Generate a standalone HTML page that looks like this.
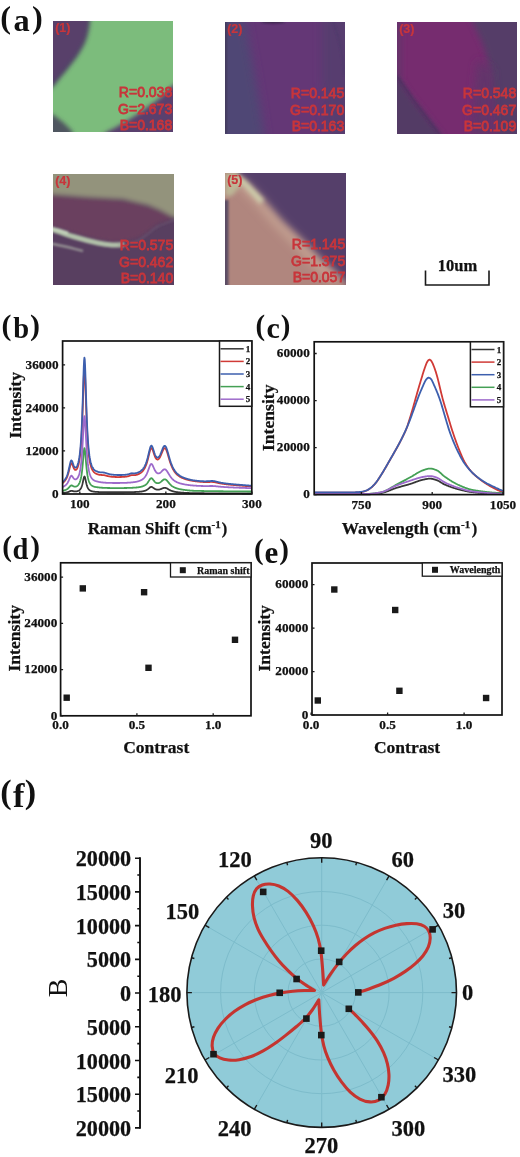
<!DOCTYPE html>
<html><head><meta charset="utf-8"><title>Figure</title>
<style>html,body{margin:0;padding:0;background:#fff;}svg{display:block;}</style>
</head><body>
<svg width="520" height="1157" viewBox="0 0 520 1157">
<rect width="520" height="1157" fill="#fff"/>
<g font-weight="bold" font-family="'Liberation Serif', 'Times New Roman', serif" fill="#111"><text x="0.27" y="27.7" font-size="32.4">(</text><text x="32.1" y="27.7" font-size="32.4">)</text><text x="13.4" y="31.4" font-size="32.4">a</text></g>
<defs><filter id="b2" x="-20%" y="-20%" width="140%" height="140%"><feGaussianBlur stdDeviation="2"/></filter><filter id="b3" x="-20%" y="-20%" width="140%" height="140%"><feGaussianBlur stdDeviation="3"/></filter><filter id="b5" x="-30%" y="-30%" width="160%" height="160%"><feGaussianBlur stdDeviation="5"/></filter><filter id="b1" x="-20%" y="-20%" width="140%" height="140%"><feGaussianBlur stdDeviation="1.2"/></filter><clipPath id="cp1"><rect x="53" y="21" width="120" height="111"/></clipPath><clipPath id="cp2"><rect x="225" y="22" width="120" height="112"/></clipPath><clipPath id="cp3"><rect x="397" y="22" width="120" height="112"/></clipPath><clipPath id="cp4"><rect x="53" y="174" width="121" height="111"/></clipPath><clipPath id="cp5"><rect x="225" y="173" width="121" height="112"/></clipPath><linearGradient id="g2" x1="0" y1="0" x2="1" y2="0"><stop offset="0" stop-color="#5a4a86"/><stop offset="0.25" stop-color="#5f4787"/><stop offset="0.45" stop-color="#673b7c"/><stop offset="1" stop-color="#663b7b"/></linearGradient></defs>
<g clip-path="url(#cp1)">
<rect x="53" y="21" width="120" height="111" fill="#7cbc7c"/>
<g filter="url(#b2)">
<path d="M40,10 L90,10 L89.5,15 C89.42,16 89.58,17.33 89,21 C88.42,24.67 87.67,31.88 86,37 C84.33,42.12 81.8,46.87 79,51.7 C76.2,56.53 72.43,61.68 69.2,66 C65.97,70.32 62.17,74.38 59.6,77.6 C57.03,80.82 55.73,82.9 53.8,85.3 C51.87,87.7 48.97,90.88 48,92 L40,95Z" fill="#58406b"/>
<path d="M185,150 L185,78 L180,82 C178.67,82.67 175.17,83.5 172,86 C168.83,88.5 164.87,93.67 161,97 C157.13,100.33 152.63,103.2 148.8,106 C144.97,108.8 141.83,111.22 138,113.8 C134.17,116.38 129.63,119.18 125.8,121.5 C121.97,123.82 118.08,126.03 115,127.7 C111.92,129.37 109.8,129.78 107.3,131.5 C104.8,133.22 101.22,136.92 100,138 L98,150Z" fill="#5a406e"/>
<path d="M89,18 C88.75,20 88.33,26 87.5,30 C86.67,34 85.75,37.92 84,42 C82.25,46.08 79.75,50.33 77,54.5 C74.25,58.67 70.67,63 67.5,67 C64.33,71 60.58,75.33 58,78.5 C55.42,81.67 53,84.75 52,86" fill="none" stroke="#483d62" stroke-width="3" opacity="0.8"/>
<path d="M45,111 L55,116 L64,123 L72,131 L75,140 L45,140Z" fill="#4a4a5c" opacity="0.9"/>
</g>
</g>
<text x="55.2" y="32" font-size="12.5" text-anchor="start" font-weight="bold" font-family="'Liberation Sans', Arial, sans-serif" fill="#c8353b" stroke="#c8353b" stroke-width="0.2">(1)</text>
<text x="172.2" y="96.9" font-size="14" text-anchor="end" font-weight="normal" font-family="'Liberation Sans', Arial, sans-serif" fill="#c8353b" stroke="#c8353b" stroke-width="0.8">R=0.038</text>
<text x="172.2" y="113.65" font-size="14" text-anchor="end" font-weight="normal" font-family="'Liberation Sans', Arial, sans-serif" fill="#c8353b" stroke="#c8353b" stroke-width="0.8">G=2.673</text>
<text x="172.2" y="130.4" font-size="14" text-anchor="end" font-weight="normal" font-family="'Liberation Sans', Arial, sans-serif" fill="#c8353b" stroke="#c8353b" stroke-width="0.8">B=0.168</text>
<g clip-path="url(#cp2)">
<rect x="225" y="22" width="120" height="112" fill="#643776"/>
<g filter="url(#b5)">
<path d="M215,15 L244,15 L252,60 L259,100 L265,140 L215,140Z" fill="#504675"/>
<path d="M322,15 L355,15 L355,140 L326,140 L322,80Z" fill="#553e6e" opacity="0.9"/>
</g>
<g filter="url(#b1)"><rect x="222" y="22" width="5" height="112" fill="#3f3a55" opacity="0.8"/>
<ellipse cx="273" cy="22" rx="12" ry="1.5" fill="#2e2040" opacity="0.8"/>
<path d="M333,22 Q343,45 344,75" fill="none" stroke="#4a3868" stroke-width="1.5" opacity="0.7"/></g>
</g>
<text x="227.2" y="33" font-size="12.5" text-anchor="start" font-weight="bold" font-family="'Liberation Sans', Arial, sans-serif" fill="#c8353b" stroke="#c8353b" stroke-width="0.2">(2)</text>
<text x="344.2" y="97.9" font-size="14" text-anchor="end" font-weight="normal" font-family="'Liberation Sans', Arial, sans-serif" fill="#c8353b" stroke="#c8353b" stroke-width="0.8">R=0.145</text>
<text x="344.2" y="114.65" font-size="14" text-anchor="end" font-weight="normal" font-family="'Liberation Sans', Arial, sans-serif" fill="#c8353b" stroke="#c8353b" stroke-width="0.8">G=0.170</text>
<text x="344.2" y="131.4" font-size="14" text-anchor="end" font-weight="normal" font-family="'Liberation Sans', Arial, sans-serif" fill="#c8353b" stroke="#c8353b" stroke-width="0.8">B=0.163</text>
<g clip-path="url(#cp3)">
<rect x="397" y="22" width="120" height="112" fill="#762c6f"/>
<g filter="url(#b3)">
<path d="M385,70 L398,76 L410,95 L425,114 L442,136 L442,145 L385,145Z" fill="#523a65"/>
<path d="M471,5 C460.67,7.83 471,15.33 473,22 C475,28.67 480.17,37 483,45 C485.83,53 488.5,61.67 490,70 C491.5,78.33 490.83,84.33 492,95 C493.17,105.67 495.67,124.83 497,134 C498.33,143.17 493.67,147.33 500,150 C506.33,152.67 529.17,174.17 535,150 C540.83,125.83 545.67,29.17 535,5 C524.33,-19.17 481.33,2.17 471,5Z" fill="#553c68"/>
<rect x="393" y="20" width="8" height="60" fill="#5c3868" opacity="0.7"/>
</g>
<g filter="url(#b5)"><path d="M478,60 L492,70 L495,140 L470,140Z" fill="#5d3869" opacity="0.8"/></g>
<g filter="url(#b1)"><path d="M397,76 L412,98 L427,118 L440,135" fill="none" stroke="#3f2f5a" stroke-width="2" opacity="0.6"/></g>
</g>
<text x="399.2" y="33" font-size="12.5" text-anchor="start" font-weight="bold" font-family="'Liberation Sans', Arial, sans-serif" fill="#c8353b" stroke="#c8353b" stroke-width="0.2">(3)</text>
<text x="516.2" y="97.9" font-size="14" text-anchor="end" font-weight="normal" font-family="'Liberation Sans', Arial, sans-serif" fill="#c8353b" stroke="#c8353b" stroke-width="0.8">R=0.548</text>
<text x="516.2" y="114.65" font-size="14" text-anchor="end" font-weight="normal" font-family="'Liberation Sans', Arial, sans-serif" fill="#c8353b" stroke="#c8353b" stroke-width="0.8">G=0.467</text>
<text x="516.2" y="131.4" font-size="14" text-anchor="end" font-weight="normal" font-family="'Liberation Sans', Arial, sans-serif" fill="#c8353b" stroke="#c8353b" stroke-width="0.8">B=0.109</text>
<g clip-path="url(#cp4)">
<rect x="53" y="174" width="121" height="111" fill="#583f60"/>
<g filter="url(#b2)">
<path d="M45,165 L185,165 L185,219 L174,217.5 L160,210 L148,205 L123,199 L85.5,197 L54,194.5 L45,194Z" fill="#93937b"/>
<path d="M45,195 C46.5,189.92 47.25,195 54,195.5 C60.75,196 74,197.17 85.5,198 C97,198.83 112.58,199.08 123,200.5 C133.42,201.92 141.5,204.58 148,206.5 C154.5,208.42 158,210.03 162,212 C166,213.97 172.72,216.27 172,218.3 C171.28,220.33 161.62,222.08 157.7,224.2 C153.78,226.32 151.58,228.78 148.5,231 C145.42,233.22 142.62,235.92 139.2,237.5 C135.78,239.08 132.03,239.75 128,240.5 C123.97,241.25 120,242.17 115,242 C110,241.83 105,241 98,239.5 C91,238 80.33,235.08 73,233 C65.67,230.92 58.67,228.17 54,227 C49.33,225.83 46.5,231.33 45,226 C43.5,220.67 43.5,200.08 45,195Z" fill="#6b405f"/>
</g>
<g filter="url(#b1)">
<path d="M45,229 C46.5,229.17 49.33,228.75 54,230 C58.67,231.25 65.67,234.33 73,236.5 C80.33,238.67 91.5,241.58 98,243 C104.5,244.42 107.67,244.75 112,245 C116.33,245.25 122,244.58 124,244.5" fill="none" stroke="#b0c0a8" stroke-width="5"/>
<path d="M118,245 C120,244.67 126.47,243.83 130,243 C133.53,242.17 136.12,241.58 139.2,240 C142.28,238.42 145.42,235.75 148.5,233.5 C151.58,231.25 153.12,228.83 157.7,226.5 C162.28,224.17 172.95,220.67 176,219.5" fill="none" stroke="#7d7488" stroke-width="1.5" opacity="0.4"/>
<path d="M45,228 C46.5,228.17 50.17,228.17 54,229 C57.83,229.83 65.67,232.33 68,233" fill="none" stroke="#c4d2bc" stroke-width="3"/>
<path d="M50,243.5 C52.5,244 59.5,245.25 65,246.5 C70.5,247.75 80,250.25 83,251" fill="none" stroke="#9a9898" stroke-width="2.5" opacity="0.9"/>
</g>
</g>
<text x="55.2" y="185" font-size="12.5" text-anchor="start" font-weight="bold" font-family="'Liberation Sans', Arial, sans-serif" fill="#c8353b" stroke="#c8353b" stroke-width="0.2">(4)</text>
<text x="173.2" y="249.9" font-size="14" text-anchor="end" font-weight="normal" font-family="'Liberation Sans', Arial, sans-serif" fill="#c8353b" stroke="#c8353b" stroke-width="0.8">R=0.575</text>
<text x="173.2" y="266.65" font-size="14" text-anchor="end" font-weight="normal" font-family="'Liberation Sans', Arial, sans-serif" fill="#c8353b" stroke="#c8353b" stroke-width="0.8">G=0.462</text>
<text x="173.2" y="283.4" font-size="14" text-anchor="end" font-weight="normal" font-family="'Liberation Sans', Arial, sans-serif" fill="#c8353b" stroke="#c8353b" stroke-width="0.8">B=0.140</text>
<g clip-path="url(#cp5)">
<rect x="225" y="173" width="121" height="112" fill="#553f6a"/>
<g filter="url(#b3)">
<path d="M215,160 L232,160 L237,173 L246,183 L262.5,199.5 L282.5,222 L302.5,240.5 L320,258 L337.5,273 L347,282 L352,300 L215,300Z" fill="#b0867e"/>
</g>
<g filter="url(#b5)">
<path d="M240,182 C243,185 251.67,193.17 258,200 C264.33,206.83 271.33,215.83 278,223 C284.67,230.17 291.67,236.5 298,243 C304.33,249.5 310,255.83 316,262 C322,268.17 331,277 334,280" fill="none" stroke="#d2b4a0" stroke-width="9" opacity="0.6"/>
</g>
<g filter="url(#b2)">
<path d="M232,175 C233.5,175.83 237.83,177.5 241,180 C244.17,182.5 247.5,186.33 251,190 C254.5,193.67 260.17,200 262,202" fill="none" stroke="#d4d8b0" stroke-width="6" opacity="0.85"/>
<path d="M225,173 L238,173 L242,184 L232,196 L225,196Z" fill="#bfc29c" opacity="0.8"/>
</g>
<g filter="url(#b1)"><rect x="220" y="200" width="8.5" height="95" fill="#564862" opacity="0.95"/></g>
</g>
<text x="227.2" y="184" font-size="12.5" text-anchor="start" font-weight="bold" font-family="'Liberation Sans', Arial, sans-serif" fill="#c8353b" stroke="#c8353b" stroke-width="0.2">(5)</text>
<text x="345.2" y="248.9" font-size="14" text-anchor="end" font-weight="normal" font-family="'Liberation Sans', Arial, sans-serif" fill="#c8353b" stroke="#c8353b" stroke-width="0.8">R=1.145</text>
<text x="345.2" y="265.65" font-size="14" text-anchor="end" font-weight="normal" font-family="'Liberation Sans', Arial, sans-serif" fill="#c8353b" stroke="#c8353b" stroke-width="0.8">G=1.375</text>
<text x="345.2" y="282.4" font-size="14" text-anchor="end" font-weight="normal" font-family="'Liberation Sans', Arial, sans-serif" fill="#c8353b" stroke="#c8353b" stroke-width="0.8">B=0.057</text>
<path d="M425.5,270.5 V285 H489 V270.5" fill="none" stroke="#1a1a1a" stroke-width="1.6"/>
<text x="457.5" y="271" font-size="16.5" text-anchor="middle" font-weight="bold" font-family="'Liberation Serif', 'Times New Roman', serif" fill="#111"  stroke="#111" stroke-width="0.25">10um</text>
<g font-weight="bold" font-family="'Liberation Serif', 'Times New Roman', serif" fill="#111"><text x="1.6" y="335.1" font-size="29.9">(</text><text x="30.1" y="335.1" font-size="29.9">)</text><text x="13.2" y="337.7" font-size="28.5">b</text></g>
<g fill="none" stroke-width="1.8" stroke-linejoin="round">
<polyline stroke="#363636" points="62.6,492.99 62.92,492.96 63.23,492.93 63.55,492.9 63.86,492.87 64.18,492.83 64.5,492.79 64.81,492.75 65.13,492.71 65.44,492.66 65.76,492.61 66.08,492.55 66.39,492.49 66.71,492.42 67.02,492.34 67.34,492.26 67.66,492.17 67.97,492.07 68.29,491.95 68.6,491.83 68.92,491.7 69.24,491.56 69.55,491.41 69.87,491.27 70.19,491.13 70.5,491.01 70.82,490.92 71.13,490.87 71.45,490.85 71.77,490.87 72.08,490.91 72.4,490.98 72.71,491.06 73.03,491.14 73.35,491.22 73.66,491.3 73.98,491.36 74.29,491.4 74.61,491.44 74.93,491.46 75.24,491.46 75.56,491.46 75.87,491.44 76.19,491.4 76.51,491.36 76.82,491.3 77.14,491.23 77.45,491.14 77.77,491.03 78.09,490.91 78.4,490.76 78.72,490.59 79.03,490.39 79.35,490.16 79.67,489.89 79.98,489.57 80.3,489.2 80.61,488.76 80.93,488.24 81.25,487.61 81.56,486.87 81.88,485.99 82.19,484.96 82.51,483.74 82.83,482.37 83.14,480.87 83.46,479.34 83.77,477.95 84.09,476.93 84.41,476.49 84.72,476.72 85.04,477.57 85.36,478.86 85.67,480.36 85.99,481.88 86.3,483.3 86.62,484.56 86.94,485.64 87.25,486.57 87.57,487.35 87.88,488 88.2,488.55 88.52,489.01 88.83,489.4 89.15,489.73 89.46,490.02 89.78,490.26 90.1,490.47 90.41,490.65 90.73,490.81 91.04,490.95 91.36,491.07 91.68,491.18 91.99,491.27 92.31,491.35 92.62,491.43 92.94,491.49 93.26,491.55 93.57,491.6 93.89,491.65 94.2,491.69 94.52,491.73 94.84,491.77 95.15,491.8 95.47,491.82 95.78,491.85 96.1,491.87 96.42,491.89 96.73,491.91 97.05,491.93 97.36,491.95 97.68,491.97 98,491.99 98.31,492.01 98.63,492.02 98.94,492.04 99.26,492.05 99.58,492.06 99.89,492.08 100.21,492.09 100.53,492.1 100.84,492.11 101.16,492.12 101.47,492.13 101.79,492.14 102.11,492.15 102.42,492.15 102.74,492.16 103.05,492.17 103.37,492.17 103.69,492.18 104,492.19 104.32,492.19 104.63,492.2 104.95,492.2 105.27,492.21 105.58,492.21 105.9,492.21 106.21,492.22 106.53,492.22 106.85,492.23 107.16,492.23 107.48,492.23 107.79,492.24 108.11,492.24 108.43,492.24 108.74,492.24 109.06,492.24 109.37,492.25 109.69,492.25 110.01,492.25 110.32,492.25 110.64,492.25 110.95,492.26 111.27,492.26 111.59,492.26 111.9,492.26 112.22,492.26 112.53,492.26 112.85,492.26 113.17,492.26 113.48,492.26 113.8,492.26 114.12,492.26 114.43,492.26 114.75,492.26 115.06,492.26 115.38,492.26 115.7,492.26 116.01,492.26 116.33,492.26 116.64,492.26 116.96,492.26 117.28,492.26 117.59,492.26 117.91,492.26 118.22,492.26 118.54,492.26 118.86,492.26 119.17,492.26 119.49,492.26 119.8,492.26 120.12,492.25 120.44,492.25 120.75,492.25 121.07,492.25 121.38,492.25 121.7,492.25 122.02,492.24 122.33,492.24 122.65,492.24 122.96,492.24 123.28,492.23 123.6,492.23 123.91,492.23 124.23,492.23 124.54,492.22 124.86,492.22 125.18,492.22 125.49,492.21 125.81,492.21 126.12,492.21 126.44,492.2 126.76,492.2 127.07,492.2 127.39,492.19 127.7,492.19 128.02,492.18 128.34,492.18 128.65,492.17 128.97,492.17 129.29,492.16 129.6,492.16 129.92,492.15 130.23,492.14 130.55,492.14 130.87,492.13 131.18,492.12 131.5,492.12 131.81,492.11 132.13,492.1 132.45,492.09 132.76,492.08 133.08,492.07 133.39,492.06 133.71,492.05 134.03,492.04 134.34,492.03 134.66,492.02 134.97,492.01 135.29,491.99 135.61,491.98 135.92,491.97 136.24,491.95 136.55,491.94 136.87,491.92 137.19,491.9 137.5,491.88 137.82,491.86 138.13,491.84 138.45,491.82 138.77,491.79 139.08,491.77 139.4,491.74 139.71,491.71 140.03,491.68 140.35,491.65 140.66,491.61 140.98,491.57 141.29,491.53 141.61,491.49 141.93,491.44 142.24,491.39 142.56,491.34 142.88,491.28 143.19,491.21 143.51,491.14 143.82,491.06 144.14,490.98 144.46,490.89 144.77,490.79 145.09,490.69 145.4,490.58 145.72,490.45 146.04,490.31 146.35,490.16 146.67,489.99 146.98,489.81 147.3,489.61 147.62,489.39 147.93,489.16 148.25,488.9 148.56,488.64 148.88,488.37 149.2,488.09 149.51,487.82 149.83,487.56 150.14,487.33 150.46,487.14 150.78,487 151.09,486.92 151.41,486.9 151.72,486.95 152.04,487.06 152.36,487.21 152.67,487.4 152.99,487.62 153.3,487.85 153.62,488.08 153.94,488.31 154.25,488.53 154.57,488.72 154.88,488.9 155.2,489.06 155.52,489.2 155.83,489.32 156.15,489.42 156.46,489.5 156.78,489.57 157.1,489.61 157.41,489.64 157.73,489.66 158.05,489.66 158.36,489.64 158.68,489.61 158.99,489.57 159.31,489.51 159.63,489.44 159.94,489.36 160.26,489.26 160.57,489.16 160.89,489.05 161.21,488.92 161.52,488.8 161.84,488.66 162.15,488.53 162.47,488.4 162.79,488.27 163.1,488.15 163.42,488.04 163.73,487.95 164.05,487.88 164.37,487.83 164.68,487.81 165,487.82 165.31,487.85 165.63,487.92 165.95,488.01 166.26,488.12 166.58,488.26 166.89,488.41 167.21,488.58 167.53,488.76 167.84,488.94 168.16,489.12 168.47,489.31 168.79,489.49 169.11,489.67 169.42,489.85 169.74,490.01 170.05,490.17 170.37,490.33 170.69,490.47 171,490.61 171.32,490.74 171.63,490.86 171.95,490.98 172.27,491.09 172.58,491.19 172.9,491.29 173.22,491.38 173.53,491.46 173.85,491.54 174.16,491.62 174.48,491.69 174.8,491.76 175.11,491.82 175.43,491.88 175.74,491.94 176.06,491.99 176.38,492.04 176.69,492.09 177.01,492.13 177.32,492.18 177.64,492.22 177.96,492.26 178.27,492.3 178.59,492.33 178.9,492.37 179.22,492.4 179.54,492.43 179.85,492.46 180.17,492.49 180.48,492.52 180.8,492.54 181.12,492.57 181.43,492.59 181.75,492.62 182.06,492.64 182.38,492.66 182.7,492.69 183.01,492.71 183.33,492.73 183.64,492.75 183.96,492.77 184.28,492.78 184.59,492.8 184.91,492.82 185.22,492.84 185.54,492.85 185.86,492.87 186.17,492.89 186.49,492.9 186.81,492.92 187.12,492.93 187.44,492.94 187.75,492.96 188.07,492.97 188.39,492.99 188.7,493 189.02,493.01 189.33,493.03 189.65,493.04 189.97,493.05 190.28,493.06 190.6,493.07 190.91,493.09 191.23,493.1 191.55,493.11 191.86,493.12 192.18,493.12 192.49,493.13 192.81,493.13 193.13,493.14 193.44,493.15 193.76,493.15 194.07,493.16 194.39,493.16 194.71,493.17 195.02,493.17 195.34,493.17 195.65,493.18 195.97,493.18 196.29,493.19 196.6,493.19 196.92,493.2 197.23,493.2 197.55,493.2 197.87,493.21 198.18,493.21 198.5,493.22 198.81,493.22 199.13,493.22 199.45,493.23 199.76,493.23 200.08,493.23 200.39,493.24 200.71,493.24 201.03,493.24 201.34,493.25 201.66,493.25 201.98,493.25 202.29,493.26 202.61,493.26 202.92,493.26 203.24,493.27 203.56,493.27 203.87,493.27 204.19,493.27 204.5,493.28 204.82,493.28 205.14,493.28 205.45,493.28 205.77,493.29 206.08,493.29 206.4,493.29 206.72,493.29 207.03,493.3 207.35,493.3 207.66,493.3 207.98,493.3 208.3,493.31 208.61,493.31 208.93,493.31 209.24,493.31 209.56,493.32 209.88,493.32 210.19,493.32 210.51,493.32 210.82,493.32 211.14,493.33 211.46,493.33 211.77,493.33 212.09,493.33 212.4,493.33 212.72,493.34 213.04,493.34 213.35,493.34 213.67,493.34 213.98,493.34 214.3,493.35 214.62,493.35 214.93,493.35 215.25,493.35 215.57,493.35 215.88,493.36 216.2,493.36 216.51,493.36 216.83,493.36 217.15,493.36 217.46,493.36 217.78,493.37 218.09,493.37 218.41,493.37 218.73,493.37 219.04,493.37 219.36,493.38 219.67,493.38 219.99,493.38 220.31,493.38 220.62,493.38 220.94,493.38 221.25,493.38 221.57,493.39 221.89,493.39 222.2,493.39 222.52,493.39 222.83,493.39 223.15,493.39 223.47,493.4 223.78,493.4 224.1,493.4 224.41,493.4 224.73,493.4 225.05,493.4 225.36,493.4 225.68,493.41 225.99,493.41 226.31,493.41 226.63,493.41 226.94,493.41 227.26,493.41 227.57,493.42 227.89,493.42 228.21,493.42 228.52,493.42 228.84,493.42 229.15,493.42 229.47,493.42 229.79,493.43 230.1,493.43 230.42,493.43 230.74,493.43 231.05,493.43 231.37,493.43 231.68,493.43 232,493.43 232.32,493.44 232.63,493.44 232.95,493.44 233.26,493.44 233.58,493.44 233.9,493.44 234.21,493.44 234.53,493.45 234.84,493.45 235.16,493.45 235.48,493.45 235.79,493.45 236.11,493.45 236.42,493.45 236.74,493.45 237.06,493.46 237.37,493.46 237.69,493.46 238,493.46 238.32,493.46 238.64,493.46 238.95,493.46 239.27,493.46 239.58,493.47 239.9,493.47 240.22,493.47 240.53,493.47 240.85,493.47 241.16,493.47 241.48,493.47 241.8,493.47 242.11,493.48 242.43,493.48 242.74,493.48 243.06,493.48 243.38,493.48 243.69,493.48 244.01,493.48 244.32,493.48 244.64,493.49 244.96,493.49 245.27,493.49 245.59,493.49 245.91,493.49 246.22,493.49 246.54,493.49 246.85,493.49 247.17,493.49 247.49,493.5 247.8,493.5 248.12,493.5 248.43,493.5 248.75,493.5 249.07,493.5 249.38,493.5 249.7,493.5 250.01,493.51 250.33,493.51 250.65,493.51 250.96,493.51 251.28,493.51 251.59,493.51 251.91,493.51"/>
<polyline stroke="#d03a36" points="62.6,483.07 62.92,482.81 63.23,482.55 63.55,482.26 63.86,481.96 64.18,481.64 64.5,481.29 64.81,480.92 65.13,480.51 65.44,480.07 65.76,479.59 66.08,479.07 66.39,478.49 66.71,477.85 67.02,477.15 67.34,476.37 67.66,475.5 67.97,474.55 68.29,473.49 68.6,472.34 68.92,471.09 69.24,469.77 69.55,468.41 69.87,467.06 70.19,465.79 70.5,464.7 70.82,463.86 71.13,463.36 71.45,463.22 71.77,463.43 72.08,463.93 72.4,464.63 72.71,465.45 73.03,466.31 73.35,467.13 73.66,467.88 73.98,468.52 74.29,469.05 74.61,469.45 74.93,469.73 75.24,469.9 75.56,469.94 75.87,469.87 76.19,469.69 76.51,469.4 76.82,468.99 77.14,468.46 77.45,467.81 77.77,467.02 78.09,466.08 78.4,464.98 78.72,463.69 79.03,462.18 79.35,460.41 79.67,458.36 79.98,455.97 80.3,453.19 80.61,449.92 80.93,446.07 81.25,441.54 81.56,436.22 81.88,429.98 82.19,422.75 82.51,414.5 82.83,405.34 83.14,395.61 83.46,385.99 83.77,377.48 84.09,371.35 84.41,368.69 84.72,370.06 85.04,375.17 85.36,383.02 85.67,392.38 85.99,402.13 86.3,411.49 86.62,420.02 86.94,427.55 87.25,434.07 87.57,439.65 87.88,444.4 88.2,448.45 88.52,451.89 88.83,454.82 89.15,457.33 89.46,459.49 89.78,461.35 90.1,462.95 90.41,464.35 90.73,465.57 91.04,466.63 91.36,467.57 91.68,468.39 91.99,469.12 92.31,469.76 92.62,470.33 92.94,470.84 93.26,471.29 93.57,471.69 93.89,472.05 94.2,472.37 94.52,472.65 94.84,472.91 95.15,473.13 95.47,473.34 95.78,473.51 96.1,473.67 96.42,473.81 96.73,473.93 97.05,474.04 97.36,474.18 97.68,474.3 98,474.41 98.31,474.51 98.63,474.6 98.94,474.68 99.26,474.75 99.58,474.8 99.89,474.85 100.21,474.89 100.53,474.92 100.84,474.95 101.16,474.97 101.47,474.99 101.79,475 102.11,475.02 102.42,475.03 102.74,475.05 103.05,475.07 103.37,475.1 103.69,475.14 104,475.18 104.32,475.23 104.63,475.29 104.95,475.36 105.27,475.43 105.58,475.51 105.9,475.6 106.21,475.68 106.53,475.76 106.85,475.85 107.16,475.93 107.48,476.01 107.79,476.09 108.11,476.16 108.43,476.24 108.74,476.3 109.06,476.37 109.37,476.43 109.69,476.48 110.01,476.53 110.32,476.58 110.64,476.63 110.95,476.67 111.27,476.71 111.59,476.74 111.9,476.78 112.22,476.81 112.53,476.83 112.85,476.86 113.17,476.88 113.48,476.91 113.8,476.93 114.12,476.94 114.43,476.96 114.75,476.97 115.06,476.99 115.38,477 115.7,477.01 116.01,477.02 116.33,477.02 116.64,477.03 116.96,477.04 117.28,477.04 117.59,477.04 117.91,477.04 118.22,477.04 118.54,477.04 118.86,477.04 119.17,477.04 119.49,477.03 119.8,477.02 120.12,477.02 120.44,477.01 120.75,477 121.07,476.99 121.38,476.98 121.7,476.97 122.02,476.95 122.33,476.94 122.65,476.92 122.96,476.9 123.28,476.88 123.6,476.86 123.91,476.84 124.23,476.81 124.54,476.79 124.86,476.76 125.18,476.73 125.49,476.69 125.81,476.65 126.12,476.61 126.44,476.57 126.76,476.52 127.07,476.47 127.39,476.41 127.7,476.34 128.02,476.27 128.34,476.19 128.65,476.1 128.97,476 129.29,475.89 129.6,475.78 129.92,475.65 130.23,475.53 130.55,475.41 130.87,475.3 131.18,475.21 131.5,475.15 131.81,475.13 132.13,475.12 132.45,475.14 132.76,475.16 133.08,475.19 133.39,475.2 133.71,475.22 134.03,475.22 134.34,475.2 134.66,475.18 134.97,475.15 135.29,475.1 135.61,475.05 135.92,474.99 136.24,474.91 136.55,474.83 136.87,474.74 137.19,474.64 137.5,474.54 137.82,474.42 138.13,474.3 138.45,474.16 138.77,474.02 139.08,473.86 139.4,473.7 139.71,473.52 140.03,473.33 140.35,473.13 140.66,472.91 140.98,472.67 141.29,472.42 141.61,472.15 141.93,471.86 142.24,471.55 142.56,471.21 142.88,470.85 143.19,470.45 143.51,470.03 143.82,469.57 144.14,469.07 144.46,468.54 144.77,467.98 145.09,467.37 145.4,466.7 145.72,465.98 146.04,465.19 146.35,464.34 146.67,463.41 146.98,462.41 147.3,461.33 147.62,460.19 147.93,458.97 148.25,457.69 148.56,456.38 148.88,455.03 149.2,453.7 149.51,452.41 149.83,451.21 150.14,450.15 150.46,449.26 150.78,448.6 151.09,448.19 151.41,448.05 151.72,448.18 152.04,448.56 152.36,449.15 152.67,449.91 152.99,450.79 153.3,451.75 153.62,452.74 153.94,453.73 154.25,454.67 154.57,455.56 154.88,456.37 155.2,457.1 155.52,457.73 155.83,458.27 156.15,458.71 156.46,459.06 156.78,459.31 157.1,459.47 157.41,459.54 157.73,459.53 158.05,459.43 158.36,459.25 158.68,458.99 158.99,458.66 159.31,458.25 159.63,457.77 159.94,457.23 160.26,456.62 160.57,455.96 160.89,455.26 161.21,454.51 161.52,453.74 161.84,452.95 162.15,452.16 162.47,451.39 162.79,450.66 163.1,449.98 163.42,449.38 163.73,448.87 164.05,448.49 164.37,448.23 164.68,448.12 165,448.17 165.31,448.37 165.63,448.73 165.95,449.23 166.26,449.87 166.58,450.63 166.89,451.5 167.21,452.45 167.53,453.46 167.84,454.51 168.16,455.59 168.47,456.68 168.79,457.77 169.11,458.85 169.42,459.9 169.74,460.93 170.05,461.92 170.37,462.87 170.69,463.77 171,464.64 171.32,465.47 171.63,466.25 171.95,466.99 172.27,467.69 172.58,468.35 172.9,468.98 173.22,469.57 173.53,470.12 173.85,470.65 174.16,471.15 174.48,471.62 174.8,472.06 175.11,472.48 175.43,472.87 175.74,473.25 176.06,473.6 176.38,473.94 176.69,474.26 177.01,474.56 177.32,474.85 177.64,475.12 177.96,475.38 178.27,475.63 178.59,475.86 178.9,476.09 179.22,476.3 179.54,476.51 179.85,476.7 180.17,476.89 180.48,477.07 180.8,477.24 181.12,477.41 181.43,477.57 181.75,477.72 182.06,477.87 182.38,478.01 182.7,478.14 183.01,478.28 183.33,478.4 183.64,478.52 183.96,478.64 184.28,478.76 184.59,478.87 184.91,478.97 185.22,479.08 185.54,479.18 185.86,479.28 186.17,479.37 186.49,479.46 186.81,479.55 187.12,479.64 187.44,479.72 187.75,479.81 188.07,479.89 188.39,479.97 188.7,480.04 189.02,480.12 189.33,480.19 189.65,480.26 189.97,480.33 190.28,480.39 190.6,480.46 190.91,480.52 191.23,480.59 191.55,480.65 191.86,480.71 192.18,480.76 192.49,480.81 192.81,480.87 193.13,480.92 193.44,480.96 193.76,481.01 194.07,481.06 194.39,481.11 194.71,481.15 195.02,481.19 195.34,481.24 195.65,481.28 195.97,481.32 196.29,481.36 196.6,481.4 196.92,481.44 197.23,481.47 197.55,481.51 197.87,481.55 198.18,481.58 198.5,481.61 198.81,481.65 199.13,481.68 199.45,481.71 199.76,481.74 200.08,481.76 200.39,481.79 200.71,481.82 201.03,481.84 201.34,481.87 201.66,481.89 201.98,481.91 202.29,481.93 202.61,481.95 202.92,481.97 203.24,481.98 203.56,482 203.87,482.01 204.19,482.03 204.5,482.04 204.82,482.05 205.14,482.05 205.45,482.06 205.77,482.06 206.08,482.06 206.4,482.06 206.72,482.06 207.03,482.06 207.35,482.06 207.66,482.05 207.98,482.04 208.3,482.03 208.61,482.02 208.93,482.01 209.24,482 209.56,481.99 209.88,481.98 210.19,481.97 210.51,481.96 210.82,481.95 211.14,481.94 211.46,481.94 211.77,481.95 212.09,481.95 212.4,481.97 212.72,481.98 213.04,482.01 213.35,482.04 213.67,482.07 213.98,482.11 214.3,482.16 214.62,482.21 214.93,482.26 215.25,482.32 215.57,482.39 215.88,482.45 216.2,482.52 216.51,482.59 216.83,482.66 217.15,482.73 217.46,482.8 217.78,482.87 218.09,482.94 218.41,483.01 218.73,483.07 219.04,483.14 219.36,483.2 219.67,483.27 219.99,483.33 220.31,483.39 220.62,483.44 220.94,483.5 221.25,483.55 221.57,483.61 221.89,483.66 222.2,483.71 222.52,483.76 222.83,483.81 223.15,483.85 223.47,483.9 223.78,483.94 224.1,483.98 224.41,484.03 224.73,484.07 225.05,484.11 225.36,484.15 225.68,484.19 225.99,484.23 226.31,484.26 226.63,484.3 226.94,484.34 227.26,484.37 227.57,484.41 227.89,484.44 228.21,484.48 228.52,484.51 228.84,484.54 229.15,484.57 229.47,484.61 229.79,484.64 230.1,484.67 230.42,484.7 230.74,484.73 231.05,484.76 231.37,484.79 231.68,484.82 232,484.85 232.32,484.88 232.63,484.91 232.95,484.94 233.26,484.97 233.58,485 233.9,485.03 234.21,485.05 234.53,485.08 234.84,485.11 235.16,485.14 235.48,485.17 235.79,485.19 236.11,485.22 236.42,485.25 236.74,485.27 237.06,485.3 237.37,485.33 237.69,485.35 238,485.38 238.32,485.41 238.64,485.43 238.95,485.46 239.27,485.49 239.58,485.51 239.9,485.54 240.22,485.56 240.53,485.59 240.85,485.61 241.16,485.64 241.48,485.66 241.8,485.69 242.11,485.72 242.43,485.74 242.74,485.77 243.06,485.79 243.38,485.82 243.69,485.84 244.01,485.87 244.32,485.89 244.64,485.91 244.96,485.94 245.27,485.96 245.59,485.99 245.91,486.01 246.22,486.04 246.54,486.06 246.85,486.09 247.17,486.11 247.49,486.14 247.8,486.16 248.12,486.18 248.43,486.21 248.75,486.23 249.07,486.26 249.38,486.28 249.7,486.3 250.01,486.33 250.33,486.35 250.65,486.38 250.96,486.4 251.28,486.42 251.59,486.45 251.91,486.47"/>
<polyline stroke="#3d5fae" points="62.6,482.08 62.92,481.8 63.23,481.5 63.55,481.19 63.86,480.86 64.18,480.5 64.5,480.12 64.81,479.71 65.13,479.26 65.44,478.78 65.76,478.26 66.08,477.68 66.39,477.05 66.71,476.35 67.02,475.58 67.34,474.73 67.66,473.79 67.97,472.74 68.29,471.59 68.6,470.34 68.92,468.98 69.24,467.55 69.55,466.06 69.87,464.6 70.19,463.22 70.5,462.03 70.82,461.12 71.13,460.56 71.45,460.4 71.77,460.62 72.08,461.16 72.4,461.92 72.71,462.8 73.03,463.72 73.35,464.61 73.66,465.41 73.98,466.1 74.29,466.67 74.61,467.1 74.93,467.4 75.24,467.56 75.56,467.61 75.87,467.52 76.19,467.32 76.51,467 76.82,466.55 77.14,465.97 77.45,465.26 77.77,464.4 78.09,463.38 78.4,462.17 78.72,460.76 79.03,459.12 79.35,457.21 79.67,454.97 79.98,452.38 80.3,449.35 80.61,445.8 80.93,441.62 81.25,436.7 81.56,430.92 81.88,424.15 82.19,416.3 82.51,407.35 82.83,397.41 83.14,386.86 83.46,376.42 83.77,367.2 84.09,360.54 84.41,357.65 84.72,359.13 85.04,364.65 85.36,373.16 85.67,383.29 85.99,393.85 86.3,403.98 86.62,413.22 86.94,421.37 87.25,428.42 87.57,434.47 87.88,439.61 88.2,443.98 88.52,447.7 88.83,450.87 89.15,453.59 89.46,455.91 89.78,457.92 90.1,459.65 90.41,461.15 90.73,462.46 91.04,463.61 91.36,464.61 91.68,465.49 91.99,466.27 92.31,466.96 92.62,467.56 92.94,468.1 93.26,468.58 93.57,469.01 93.89,469.38 94.2,469.72 94.52,470.02 94.84,470.28 95.15,470.51 95.47,470.72 95.78,470.9 96.1,471.06 96.42,471.2 96.73,471.31 97.05,471.42 97.36,471.57 97.68,471.7 98,471.82 98.31,471.93 98.63,472.02 98.94,472.1 99.26,472.17 99.58,472.22 99.89,472.27 100.21,472.31 100.53,472.34 100.84,472.36 101.16,472.38 101.47,472.39 101.79,472.4 102.11,472.41 102.42,472.43 102.74,472.45 103.05,472.47 103.37,472.5 103.69,472.54 104,472.59 104.32,472.66 104.63,472.73 104.95,472.81 105.27,472.9 105.58,473 105.9,473.1 106.21,473.2 106.53,473.31 106.85,473.41 107.16,473.51 107.48,473.61 107.79,473.71 108.11,473.81 108.43,473.9 108.74,473.98 109.06,474.06 109.37,474.14 109.69,474.21 110.01,474.27 110.32,474.34 110.64,474.39 110.95,474.45 111.27,474.5 111.59,474.55 111.9,474.59 112.22,474.63 112.53,474.67 112.85,474.71 113.17,474.74 113.48,474.77 113.8,474.8 114.12,474.82 114.43,474.85 114.75,474.87 115.06,474.89 115.38,474.91 115.7,474.93 116.01,474.94 116.33,474.96 116.64,474.97 116.96,474.98 117.28,474.99 117.59,475 117.91,475 118.22,475.01 118.54,475.01 118.86,475.02 119.17,475.02 119.49,475.02 119.8,475.02 120.12,475.02 120.44,475.02 120.75,475.01 121.07,475.01 121.38,475 121.7,474.99 122.02,474.98 122.33,474.97 122.65,474.96 122.96,474.94 123.28,474.93 123.6,474.91 123.91,474.89 124.23,474.87 124.54,474.85 124.86,474.82 125.18,474.8 125.49,474.76 125.81,474.73 126.12,474.69 126.44,474.65 126.76,474.61 127.07,474.56 127.39,474.5 127.7,474.44 128.02,474.37 128.34,474.29 128.65,474.21 128.97,474.11 129.29,474.01 129.6,473.89 129.92,473.77 130.23,473.65 130.55,473.53 130.87,473.43 131.18,473.35 131.5,473.29 131.81,473.26 132.13,473.26 132.45,473.28 132.76,473.31 133.08,473.33 133.39,473.35 133.71,473.37 134.03,473.37 134.34,473.36 134.66,473.34 134.97,473.3 135.29,473.26 135.61,473.21 135.92,473.15 136.24,473.08 136.55,473 136.87,472.91 137.19,472.81 137.5,472.7 137.82,472.59 138.13,472.46 138.45,472.33 138.77,472.18 139.08,472.03 139.4,471.86 139.71,471.68 140.03,471.49 140.35,471.28 140.66,471.06 140.98,470.82 141.29,470.57 141.61,470.29 141.93,470 142.24,469.68 142.56,469.34 142.88,468.97 143.19,468.57 143.51,468.13 143.82,467.66 144.14,467.15 144.46,466.61 144.77,466.04 145.09,465.42 145.4,464.74 145.72,464.01 146.04,463.2 146.35,462.33 146.67,461.38 146.98,460.36 147.3,459.26 147.62,458.09 147.93,456.84 148.25,455.54 148.56,454.19 148.88,452.82 149.2,451.46 149.51,450.14 149.83,448.91 150.14,447.82 150.46,446.92 150.78,446.24 151.09,445.82 151.41,445.69 151.72,445.82 152.04,446.21 152.36,446.83 152.67,447.61 152.99,448.53 153.3,449.52 153.62,450.54 153.94,451.55 154.25,452.53 154.57,453.44 154.88,454.28 155.2,455.03 155.52,455.68 155.83,456.24 156.15,456.7 156.46,457.05 156.78,457.32 157.1,457.48 157.41,457.56 157.73,457.54 158.05,457.44 158.36,457.26 158.68,456.99 158.99,456.65 159.31,456.23 159.63,455.74 159.94,455.18 160.26,454.56 160.57,453.88 160.89,453.15 161.21,452.38 161.52,451.58 161.84,450.77 162.15,449.96 162.47,449.17 162.79,448.41 163.1,447.71 163.42,447.09 163.73,446.58 164.05,446.18 164.37,445.92 164.68,445.81 165,445.86 165.31,446.08 165.63,446.46 165.95,446.99 166.26,447.66 166.58,448.45 166.89,449.35 167.21,450.34 167.53,451.39 167.84,452.49 168.16,453.61 168.47,454.75 168.79,455.89 169.11,457.01 169.42,458.1 169.74,459.17 170.05,460.2 170.37,461.19 170.69,462.14 171,463.04 171.32,463.9 171.63,464.72 171.95,465.49 172.27,466.23 172.58,466.92 172.9,467.57 173.22,468.19 173.53,468.77 173.85,469.32 174.16,469.84 174.48,470.33 174.8,470.8 175.11,471.24 175.43,471.65 175.74,472.05 176.06,472.42 176.38,472.78 176.69,473.11 177.01,473.43 177.32,473.73 177.64,474.02 177.96,474.3 178.27,474.56 178.59,474.81 178.9,475.05 179.22,475.28 179.54,475.5 179.85,475.71 180.17,475.91 180.48,476.1 180.8,476.28 181.12,476.46 181.43,476.63 181.75,476.79 182.06,476.95 182.38,477.11 182.7,477.25 183.01,477.39 183.33,477.53 183.64,477.66 183.96,477.79 184.28,477.92 184.59,478.04 184.91,478.15 185.22,478.27 185.54,478.38 185.86,478.48 186.17,478.59 186.49,478.69 186.81,478.79 187.12,478.88 187.44,478.98 187.75,479.07 188.07,479.16 188.39,479.24 188.7,479.33 189.02,479.41 189.33,479.49 189.65,479.57 189.97,479.65 190.28,479.72 190.6,479.8 190.91,479.87 191.23,479.94 191.55,480.01 191.86,480.07 192.18,480.12 192.49,480.17 192.81,480.23 193.13,480.28 193.44,480.32 193.76,480.37 194.07,480.42 194.39,480.46 194.71,480.51 195.02,480.55 195.34,480.59 195.65,480.63 195.97,480.67 196.29,480.71 196.6,480.74 196.92,480.78 197.23,480.82 197.55,480.85 197.87,480.88 198.18,480.91 198.5,480.95 198.81,480.98 199.13,481 199.45,481.03 199.76,481.06 200.08,481.08 200.39,481.11 200.71,481.13 201.03,481.15 201.34,481.17 201.66,481.19 201.98,481.21 202.29,481.22 202.61,481.24 202.92,481.25 203.24,481.26 203.56,481.27 203.87,481.28 204.19,481.28 204.5,481.29 204.82,481.29 205.14,481.29 205.45,481.29 205.77,481.28 206.08,481.28 206.4,481.27 206.72,481.26 207.03,481.25 207.35,481.23 207.66,481.22 207.98,481.2 208.3,481.18 208.61,481.16 208.93,481.13 209.24,481.11 209.56,481.09 209.88,481.07 210.19,481.04 210.51,481.03 210.82,481.01 211.14,480.99 211.46,480.98 211.77,480.98 212.09,480.98 212.4,480.99 212.72,481 213.04,481.02 213.35,481.05 213.67,481.09 213.98,481.13 214.3,481.18 214.62,481.24 214.93,481.3 215.25,481.37 215.57,481.44 215.88,481.51 216.2,481.59 216.51,481.67 216.83,481.75 217.15,481.83 217.46,481.91 217.78,481.99 218.09,482.06 218.41,482.14 218.73,482.22 219.04,482.29 219.36,482.36 219.67,482.44 219.99,482.5 220.31,482.57 220.62,482.63 220.94,482.7 221.25,482.76 221.57,482.82 221.89,482.87 222.2,482.93 222.52,482.98 222.83,483.04 223.15,483.09 223.47,483.14 223.78,483.18 224.1,483.23 224.41,483.28 224.73,483.32 225.05,483.37 225.36,483.41 225.68,483.45 225.99,483.49 226.31,483.53 226.63,483.57 226.94,483.61 227.26,483.64 227.57,483.68 227.89,483.72 228.21,483.75 228.52,483.79 228.84,483.82 229.15,483.85 229.47,483.89 229.79,483.92 230.1,483.95 230.42,483.98 230.74,484.02 231.05,484.05 231.37,484.08 231.68,484.11 232,484.14 232.32,484.17 232.63,484.2 232.95,484.23 233.26,484.26 233.58,484.29 233.9,484.31 234.21,484.34 234.53,484.37 234.84,484.4 235.16,484.43 235.48,484.45 235.79,484.48 236.11,484.51 236.42,484.54 236.74,484.56 237.06,484.59 237.37,484.61 237.69,484.64 238,484.67 238.32,484.69 238.64,484.72 238.95,484.75 239.27,484.77 239.58,484.8 239.9,484.82 240.22,484.85 240.53,484.87 240.85,484.9 241.16,484.92 241.48,484.95 241.8,484.97 242.11,485 242.43,485.02 242.74,485.05 243.06,485.07 243.38,485.1 243.69,485.12 244.01,485.14 244.32,485.17 244.64,485.19 244.96,485.22 245.27,485.24 245.59,485.27 245.91,485.29 246.22,485.31 246.54,485.34 246.85,485.36 247.17,485.38 247.49,485.41 247.8,485.43 248.12,485.46 248.43,485.48 248.75,485.5 249.07,485.53 249.38,485.55 249.7,485.57 250.01,485.6 250.33,485.62 250.65,485.64 250.96,485.67 251.28,485.69 251.59,485.71 251.91,485.73"/>
<polyline stroke="#44a055" points="62.6,490.84 62.92,490.76 63.23,490.68 63.55,490.6 63.86,490.51 64.18,490.41 64.5,490.31 64.81,490.2 65.13,490.09 65.44,489.96 65.76,489.83 66.08,489.68 66.39,489.52 66.71,489.34 67.02,489.15 67.34,488.94 67.66,488.71 67.97,488.45 68.29,488.17 68.6,487.86 68.92,487.53 69.24,487.19 69.55,486.83 69.87,486.47 70.19,486.13 70.5,485.84 70.82,485.61 71.13,485.46 71.45,485.4 71.77,485.43 72.08,485.53 72.4,485.68 72.71,485.86 73.03,486.05 73.35,486.23 73.66,486.38 73.98,486.51 74.29,486.61 74.61,486.67 74.93,486.71 75.24,486.7 75.56,486.67 75.87,486.61 76.19,486.51 76.51,486.38 76.82,486.21 77.14,486.01 77.45,485.77 77.77,485.49 78.09,485.16 78.4,484.78 78.72,484.33 79.03,483.81 79.35,483.21 79.67,482.51 79.98,481.68 80.3,480.72 80.61,479.59 80.93,478.24 81.25,476.64 81.56,474.74 81.88,472.48 82.19,469.82 82.51,466.71 82.83,463.18 83.14,459.34 83.46,455.42 83.77,451.87 84.09,449.25 84.41,448.1 84.72,448.68 85.04,450.85 85.36,454.14 85.67,457.96 85.99,461.83 86.3,465.44 86.62,468.65 86.94,471.43 87.25,473.78 87.57,475.75 87.88,477.42 88.2,478.81 88.52,479.98 88.83,480.97 89.15,481.81 89.46,482.53 89.78,483.14 90.1,483.67 90.41,484.12 90.73,484.52 91.04,484.86 91.36,485.16 91.68,485.42 91.99,485.65 92.31,485.86 92.62,486.04 92.94,486.2 93.26,486.34 93.57,486.46 93.89,486.57 94.2,486.67 94.52,486.76 94.84,486.84 95.15,486.91 95.47,486.97 95.78,487.02 96.1,487.07 96.42,487.11 96.73,487.15 97.05,487.19 97.36,487.24 97.68,487.29 98,487.34 98.31,487.39 98.63,487.43 98.94,487.47 99.26,487.5 99.58,487.54 99.89,487.57 100.21,487.6 100.53,487.63 100.84,487.66 101.16,487.68 101.47,487.7 101.79,487.73 102.11,487.75 102.42,487.77 102.74,487.79 103.05,487.8 103.37,487.82 103.69,487.84 104,487.85 104.32,487.87 104.63,487.88 104.95,487.89 105.27,487.91 105.58,487.92 105.9,487.93 106.21,487.94 106.53,487.95 106.85,487.96 107.16,487.97 107.48,487.98 107.79,487.98 108.11,487.99 108.43,488 108.74,488.01 109.06,488.01 109.37,488.02 109.69,488.02 110.01,488.03 110.32,488.03 110.64,488.04 110.95,488.04 111.27,488.05 111.59,488.05 111.9,488.05 112.22,488.06 112.53,488.06 112.85,488.06 113.17,488.07 113.48,488.07 113.8,488.07 114.12,488.07 114.43,488.07 114.75,488.08 115.06,488.08 115.38,488.08 115.7,488.08 116.01,488.08 116.33,488.08 116.64,488.08 116.96,488.08 117.28,488.08 117.59,488.08 117.91,488.08 118.22,488.08 118.54,488.08 118.86,488.08 119.17,488.07 119.49,488.07 119.8,488.07 120.12,488.07 120.44,488.07 120.75,488.06 121.07,488.06 121.38,488.06 121.7,488.06 122.02,488.05 122.33,488.05 122.65,488.05 122.96,488.04 123.28,488.04 123.6,488.03 123.91,488.03 124.23,488.02 124.54,488.02 124.86,488.01 125.18,488.01 125.49,488 125.81,488 126.12,487.99 126.44,487.98 126.76,487.98 127.07,487.97 127.39,487.96 127.7,487.95 128.02,487.94 128.34,487.94 128.65,487.93 128.97,487.92 129.29,487.91 129.6,487.9 129.92,487.88 130.23,487.87 130.55,487.86 130.87,487.85 131.18,487.83 131.5,487.82 131.81,487.81 132.13,487.79 132.45,487.77 132.76,487.76 133.08,487.74 133.39,487.72 133.71,487.7 134.03,487.68 134.34,487.66 134.66,487.64 134.97,487.62 135.29,487.59 135.61,487.57 135.92,487.54 136.24,487.51 136.55,487.48 136.87,487.45 137.19,487.41 137.5,487.38 137.82,487.34 138.13,487.3 138.45,487.26 138.77,487.21 139.08,487.16 139.4,487.11 139.71,487.06 140.03,487 140.35,486.94 140.66,486.87 140.98,486.8 141.29,486.72 141.61,486.64 141.93,486.55 142.24,486.45 142.56,486.35 142.88,486.23 143.19,486.11 143.51,485.98 143.82,485.83 144.14,485.68 144.46,485.51 144.77,485.34 145.09,485.15 145.4,484.94 145.72,484.72 146.04,484.46 146.35,484.18 146.67,483.88 146.98,483.54 147.3,483.17 147.62,482.77 147.93,482.34 148.25,481.88 148.56,481.39 148.88,480.88 149.2,480.37 149.51,479.87 149.83,479.39 150.14,478.97 150.46,478.61 150.78,478.36 151.09,478.21 151.41,478.18 151.72,478.27 152.04,478.47 152.36,478.76 152.67,479.12 152.99,479.52 153.3,479.95 153.62,480.38 153.94,480.79 154.25,481.19 154.57,481.55 154.88,481.88 155.2,482.18 155.52,482.43 155.83,482.65 156.15,482.83 156.46,482.97 156.78,483.08 157.1,483.15 157.41,483.19 157.73,483.21 158.05,483.19 158.36,483.14 158.68,483.07 158.99,482.97 159.31,482.84 159.63,482.69 159.94,482.51 160.26,482.31 160.57,482.09 160.89,481.85 161.21,481.6 161.52,481.33 161.84,481.05 162.15,480.77 162.47,480.5 162.79,480.23 163.1,479.98 163.42,479.76 163.73,479.57 164.05,479.43 164.37,479.33 164.68,479.29 165,479.31 165.31,479.38 165.63,479.52 165.95,479.71 166.26,479.95 166.58,480.24 166.89,480.56 167.21,480.91 167.53,481.28 167.84,481.66 168.16,482.05 168.47,482.44 168.79,482.82 169.11,483.2 169.42,483.56 169.74,483.91 170.05,484.25 170.37,484.57 170.69,484.88 171,485.17 171.32,485.44 171.63,485.7 171.95,485.95 172.27,486.18 172.58,486.39 172.9,486.6 173.22,486.79 173.53,486.97 173.85,487.14 174.16,487.31 174.48,487.46 174.8,487.6 175.11,487.74 175.43,487.87 175.74,487.99 176.06,488.11 176.38,488.22 176.69,488.32 177.01,488.42 177.32,488.52 177.64,488.61 177.96,488.7 178.27,488.78 178.59,488.86 178.9,488.94 179.22,489.01 179.54,489.08 179.85,489.15 180.17,489.21 180.48,489.28 180.8,489.34 181.12,489.4 181.43,489.45 181.75,489.51 182.06,489.56 182.38,489.61 182.7,489.66 183.01,489.71 183.33,489.76 183.64,489.8 183.96,489.85 184.28,489.89 184.59,489.94 184.91,489.98 185.22,490.02 185.54,490.06 185.86,490.1 186.17,490.13 186.49,490.17 186.81,490.21 187.12,490.24 187.44,490.28 187.75,490.31 188.07,490.35 188.39,490.38 188.7,490.41 189.02,490.45 189.33,490.48 189.65,490.51 189.97,490.54 190.28,490.57 190.6,490.6 190.91,490.63 191.23,490.66 191.55,490.69 191.86,490.71 192.18,490.72 192.49,490.73 192.81,490.74 193.13,490.76 193.44,490.77 193.76,490.78 194.07,490.79 194.39,490.8 194.71,490.81 195.02,490.82 195.34,490.83 195.65,490.84 195.97,490.85 196.29,490.85 196.6,490.86 196.92,490.87 197.23,490.88 197.55,490.89 197.87,490.9 198.18,490.9 198.5,490.91 198.81,490.92 199.13,490.93 199.45,490.93 199.76,490.94 200.08,490.95 200.39,490.95 200.71,490.96 201.03,490.97 201.34,490.97 201.66,490.98 201.98,490.99 202.29,490.99 202.61,491 202.92,491.01 203.24,491.01 203.56,491.02 203.87,491.02 204.19,491.03 204.5,491.03 204.82,491.04 205.14,491.05 205.45,491.05 205.77,491.06 206.08,491.06 206.4,491.07 206.72,491.07 207.03,491.08 207.35,491.08 207.66,491.09 207.98,491.09 208.3,491.1 208.61,491.1 208.93,491.1 209.24,491.11 209.56,491.11 209.88,491.12 210.19,491.12 210.51,491.13 210.82,491.13 211.14,491.14 211.46,491.14 211.77,491.14 212.09,491.15 212.4,491.15 212.72,491.16 213.04,491.16 213.35,491.16 213.67,491.17 213.98,491.17 214.3,491.18 214.62,491.18 214.93,491.18 215.25,491.19 215.57,491.19 215.88,491.19 216.2,491.2 216.51,491.2 216.83,491.21 217.15,491.21 217.46,491.21 217.78,491.22 218.09,491.22 218.41,491.22 218.73,491.23 219.04,491.23 219.36,491.23 219.67,491.24 219.99,491.24 220.31,491.24 220.62,491.25 220.94,491.25 221.25,491.25 221.57,491.26 221.89,491.26 222.2,491.26 222.52,491.27 222.83,491.27 223.15,491.27 223.47,491.28 223.78,491.28 224.1,491.28 224.41,491.28 224.73,491.29 225.05,491.29 225.36,491.29 225.68,491.3 225.99,491.3 226.31,491.3 226.63,491.31 226.94,491.31 227.26,491.31 227.57,491.31 227.89,491.32 228.21,491.32 228.52,491.32 228.84,491.33 229.15,491.33 229.47,491.33 229.79,491.33 230.1,491.34 230.42,491.34 230.74,491.34 231.05,491.35 231.37,491.35 231.68,491.35 232,491.35 232.32,491.36 232.63,491.36 232.95,491.36 233.26,491.36 233.58,491.37 233.9,491.37 234.21,491.37 234.53,491.38 234.84,491.38 235.16,491.38 235.48,491.38 235.79,491.39 236.11,491.39 236.42,491.39 236.74,491.39 237.06,491.4 237.37,491.4 237.69,491.4 238,491.4 238.32,491.41 238.64,491.41 238.95,491.41 239.27,491.41 239.58,491.42 239.9,491.42 240.22,491.42 240.53,491.42 240.85,491.43 241.16,491.43 241.48,491.43 241.8,491.43 242.11,491.44 242.43,491.44 242.74,491.44 243.06,491.44 243.38,491.45 243.69,491.45 244.01,491.45 244.32,491.45 244.64,491.46 244.96,491.46 245.27,491.46 245.59,491.46 245.91,491.46 246.22,491.47 246.54,491.47 246.85,491.47 247.17,491.47 247.49,491.48 247.8,491.48 248.12,491.48 248.43,491.48 248.75,491.49 249.07,491.49 249.38,491.49 249.7,491.49 250.01,491.5 250.33,491.5 250.65,491.5 250.96,491.5 251.28,491.5 251.59,491.51 251.91,491.51"/>
<polyline stroke="#9d6acb" points="62.6,487.02 62.92,486.88 63.23,486.72 63.55,486.56 63.86,486.38 64.18,486.2 64.5,486 64.81,485.78 65.13,485.55 65.44,485.3 65.76,485.02 66.08,484.72 66.39,484.39 66.71,484.03 67.02,483.62 67.34,483.18 67.66,482.69 67.97,482.14 68.29,481.55 68.6,480.89 68.92,480.19 69.24,479.44 69.55,478.67 69.87,477.9 70.19,477.18 70.5,476.56 70.82,476.09 71.13,475.8 71.45,475.71 71.77,475.82 72.08,476.09 72.4,476.48 72.71,476.94 73.03,477.41 73.35,477.87 73.66,478.28 73.98,478.63 74.29,478.92 74.61,479.14 74.93,479.29 75.24,479.37 75.56,479.38 75.87,479.33 76.19,479.21 76.51,479.03 76.82,478.79 77.14,478.47 77.45,478.08 77.77,477.62 78.09,477.06 78.4,476.41 78.72,475.65 79.03,474.76 79.35,473.71 79.67,472.5 79.98,471.08 80.3,469.42 80.61,467.46 80.93,465.14 81.25,462.4 81.56,459.17 81.88,455.35 82.19,450.88 82.51,445.72 82.83,439.94 83.14,433.72 83.46,427.47 83.77,421.89 84.09,417.82 84.41,416.04 84.72,416.95 85.04,420.34 85.36,425.5 85.67,431.58 85.99,437.83 86.3,443.75 86.62,449.08 86.94,453.73 87.25,457.72 87.57,461.11 87.88,463.97 88.2,466.39 88.52,468.44 88.83,470.18 89.15,471.66 89.46,472.93 89.78,474.02 90.1,474.95 90.41,475.77 90.73,476.48 91.04,477.09 91.36,477.64 91.68,478.11 91.99,478.53 92.31,478.9 92.62,479.23 92.94,479.52 93.26,479.78 93.57,480.02 93.89,480.22 94.2,480.41 94.52,480.57 94.84,480.72 95.15,480.85 95.47,480.97 95.78,481.08 96.1,481.18 96.42,481.26 96.73,481.34 97.05,481.41 97.36,481.51 97.68,481.6 98,481.69 98.31,481.77 98.63,481.84 98.94,481.91 99.26,481.98 99.58,482.04 99.89,482.1 100.21,482.15 100.53,482.21 100.84,482.25 101.16,482.3 101.47,482.34 101.79,482.38 102.11,482.42 102.42,482.46 102.74,482.49 103.05,482.52 103.37,482.55 103.69,482.58 104,482.61 104.32,482.64 104.63,482.66 104.95,482.68 105.27,482.71 105.58,482.73 105.9,482.75 106.21,482.77 106.53,482.78 106.85,482.8 107.16,482.82 107.48,482.83 107.79,482.84 108.11,482.86 108.43,482.87 108.74,482.88 109.06,482.89 109.37,482.9 109.69,482.91 110.01,482.92 110.32,482.93 110.64,482.94 110.95,482.95 111.27,482.95 111.59,482.96 111.9,482.97 112.22,482.97 112.53,482.98 112.85,482.98 113.17,482.99 113.48,482.99 113.8,482.99 114.12,483 114.43,483 114.75,483 115.06,483 115.38,483 115.7,483 116.01,483 116.33,483 116.64,483 116.96,483 117.28,483 117.59,483 117.91,483 118.22,483 118.54,482.99 118.86,482.99 119.17,482.99 119.49,482.98 119.8,482.98 120.12,482.97 120.44,482.97 120.75,482.96 121.07,482.96 121.38,482.95 121.7,482.94 122.02,482.94 122.33,482.93 122.65,482.92 122.96,482.91 123.28,482.9 123.6,482.89 123.91,482.88 124.23,482.87 124.54,482.86 124.86,482.85 125.18,482.84 125.49,482.82 125.81,482.81 126.12,482.8 126.44,482.78 126.76,482.77 127.07,482.75 127.39,482.73 127.7,482.72 128.02,482.7 128.34,482.68 128.65,482.66 128.97,482.64 129.29,482.62 129.6,482.59 129.92,482.57 130.23,482.54 130.55,482.52 130.87,482.49 131.18,482.46 131.5,482.43 131.81,482.4 132.13,482.37 132.45,482.33 132.76,482.3 133.08,482.26 133.39,482.22 133.71,482.18 134.03,482.14 134.34,482.09 134.66,482.04 134.97,481.99 135.29,481.94 135.61,481.88 135.92,481.82 136.24,481.76 136.55,481.7 136.87,481.63 137.19,481.55 137.5,481.48 137.82,481.39 138.13,481.31 138.45,481.22 138.77,481.12 139.08,481.01 139.4,480.9 139.71,480.78 140.03,480.66 140.35,480.52 140.66,480.38 140.98,480.23 141.29,480.06 141.61,479.88 141.93,479.69 142.24,479.48 142.56,479.26 142.88,479.02 143.19,478.76 143.51,478.48 143.82,478.18 144.14,477.85 144.46,477.5 144.77,477.13 145.09,476.72 145.4,476.28 145.72,475.8 146.04,475.27 146.35,474.7 146.67,474.09 146.98,473.42 147.3,472.7 147.62,471.93 147.93,471.12 148.25,470.27 148.56,469.39 148.88,468.49 149.2,467.61 149.51,466.75 149.83,465.96 150.14,465.26 150.46,464.68 150.78,464.26 151.09,464.02 151.41,463.96 151.72,464.09 152.04,464.39 152.36,464.84 152.67,465.41 152.99,466.06 153.3,466.78 153.62,467.51 153.94,468.24 154.25,468.96 154.57,469.63 154.88,470.26 155.2,470.84 155.52,471.36 155.83,471.81 156.15,472.21 156.46,472.55 156.78,472.83 157.1,473.05 157.41,473.22 157.73,473.34 158.05,473.41 158.36,473.43 158.68,473.41 158.99,473.34 159.31,473.23 159.63,473.08 159.94,472.9 160.26,472.68 160.57,472.43 160.89,472.16 161.21,471.86 161.52,471.55 161.84,471.22 162.15,470.9 162.47,470.58 162.79,470.27 163.1,469.99 163.42,469.74 163.73,469.53 164.05,469.38 164.37,469.29 164.68,469.27 165,469.31 165.31,469.43 165.63,469.63 165.95,469.89 166.26,470.21 166.58,470.59 166.89,471.01 167.21,471.48 167.53,471.97 167.84,472.48 168.16,473.01 168.47,473.54 168.79,474.06 169.11,474.58 169.42,475.09 169.74,475.59 170.05,476.07 170.37,476.53 170.69,476.97 171,477.39 171.32,477.78 171.63,478.16 171.95,478.52 172.27,478.86 172.58,479.19 172.9,479.49 173.22,479.78 173.53,480.05 173.85,480.31 174.16,480.55 174.48,480.78 174.8,481 175.11,481.2 175.43,481.4 175.74,481.58 176.06,481.76 176.38,481.92 176.69,482.08 177.01,482.23 177.32,482.37 177.64,482.51 177.96,482.64 178.27,482.76 178.59,482.88 178.9,482.99 179.22,483.1 179.54,483.2 179.85,483.3 180.17,483.4 180.48,483.49 180.8,483.58 181.12,483.66 181.43,483.74 181.75,483.82 182.06,483.9 182.38,483.97 182.7,484.04 183.01,484.11 183.33,484.18 183.64,484.24 183.96,484.3 184.28,484.36 184.59,484.42 184.91,484.48 185.22,484.53 185.54,484.58 185.86,484.64 186.17,484.69 186.49,484.73 186.81,484.78 187.12,484.83 187.44,484.87 187.75,484.92 188.07,484.96 188.39,485 188.7,485.05 189.02,485.09 189.33,485.13 189.65,485.16 189.97,485.2 190.28,485.24 190.6,485.28 190.91,485.31 191.23,485.35 191.55,485.38 191.86,485.41 192.18,485.44 192.49,485.46 192.81,485.49 193.13,485.51 193.44,485.54 193.76,485.56 194.07,485.58 194.39,485.61 194.71,485.63 195.02,485.65 195.34,485.67 195.65,485.69 195.97,485.71 196.29,485.73 196.6,485.75 196.92,485.77 197.23,485.78 197.55,485.8 197.87,485.82 198.18,485.84 198.5,485.85 198.81,485.87 199.13,485.88 199.45,485.9 199.76,485.91 200.08,485.93 200.39,485.94 200.71,485.95 201.03,485.96 201.34,485.98 201.66,485.99 201.98,486 202.29,486.01 202.61,486.02 202.92,486.02 203.24,486.03 203.56,486.04 203.87,486.05 204.19,486.05 204.5,486.06 204.82,486.06 205.14,486.06 205.45,486.07 205.77,486.07 206.08,486.07 206.4,486.07 206.72,486.07 207.03,486.06 207.35,486.06 207.66,486.06 207.98,486.05 208.3,486.05 208.61,486.04 208.93,486.04 209.24,486.03 209.56,486.02 209.88,486.02 210.19,486.01 210.51,486.01 210.82,486 211.14,486 211.46,486 211.77,486 212.09,486 212.4,486.01 212.72,486.02 213.04,486.03 213.35,486.04 213.67,486.06 213.98,486.08 214.3,486.1 214.62,486.13 214.93,486.16 215.25,486.19 215.57,486.22 215.88,486.25 216.2,486.28 216.51,486.32 216.83,486.35 217.15,486.39 217.46,486.42 217.78,486.46 218.09,486.49 218.41,486.52 218.73,486.56 219.04,486.59 219.36,486.62 219.67,486.65 219.99,486.68 220.31,486.71 220.62,486.74 220.94,486.77 221.25,486.79 221.57,486.82 221.89,486.84 222.2,486.87 222.52,486.89 222.83,486.92 223.15,486.94 223.47,486.96 223.78,486.98 224.1,487 224.41,487.03 224.73,487.05 225.05,487.07 225.36,487.08 225.68,487.1 225.99,487.12 226.31,487.14 226.63,487.16 226.94,487.18 227.26,487.19 227.57,487.21 227.89,487.23 228.21,487.24 228.52,487.26 228.84,487.28 229.15,487.29 229.47,487.31 229.79,487.32 230.1,487.34 230.42,487.35 230.74,487.37 231.05,487.38 231.37,487.4 231.68,487.41 232,487.43 232.32,487.44 232.63,487.46 232.95,487.47 233.26,487.48 233.58,487.5 233.9,487.51 234.21,487.53 234.53,487.54 234.84,487.55 235.16,487.57 235.48,487.58 235.79,487.59 236.11,487.61 236.42,487.62 236.74,487.63 237.06,487.64 237.37,487.66 237.69,487.67 238,487.68 238.32,487.7 238.64,487.71 238.95,487.72 239.27,487.73 239.58,487.75 239.9,487.76 240.22,487.77 240.53,487.78 240.85,487.8 241.16,487.81 241.48,487.82 241.8,487.83 242.11,487.85 242.43,487.86 242.74,487.87 243.06,487.88 243.38,487.89 243.69,487.91 244.01,487.92 244.32,487.93 244.64,487.94 244.96,487.95 245.27,487.97 245.59,487.98 245.91,487.99 246.22,488 246.54,488.01 246.85,488.02 247.17,488.04 247.49,488.05 247.8,488.06 248.12,488.07 248.43,488.08 248.75,488.09 249.07,488.11 249.38,488.12 249.7,488.13 250.01,488.14 250.33,488.15 250.65,488.16 250.96,488.18 251.28,488.19 251.59,488.2 251.91,488.21"/>
</g>
<rect x="62.6" y="341" width="189.2" height="153" fill="none" stroke="#111" stroke-width="1.7"/>
<text x="58.5" y="497.7" font-size="13.2" text-anchor="end" font-weight="bold" font-family="'Liberation Serif', 'Times New Roman', serif" fill="#111"  stroke="#111" stroke-width="0.25">0</text>
<text x="58.5" y="454.7" font-size="13.2" text-anchor="end" font-weight="bold" font-family="'Liberation Serif', 'Times New Roman', serif" fill="#111"  stroke="#111" stroke-width="0.25">12000</text>
<text x="58.5" y="411.7" font-size="13.2" text-anchor="end" font-weight="bold" font-family="'Liberation Serif', 'Times New Roman', serif" fill="#111"  stroke="#111" stroke-width="0.25">24000</text>
<text x="58.5" y="368.7" font-size="13.2" text-anchor="end" font-weight="bold" font-family="'Liberation Serif', 'Times New Roman', serif" fill="#111"  stroke="#111" stroke-width="0.25">36000</text>
<text x="79.81" y="508.2" font-size="13.2" text-anchor="middle" font-weight="bold" font-family="'Liberation Serif', 'Times New Roman', serif" fill="#111"  stroke="#111" stroke-width="0.25">100</text>
<text x="165.86" y="508.2" font-size="13.2" text-anchor="middle" font-weight="bold" font-family="'Liberation Serif', 'Times New Roman', serif" fill="#111"  stroke="#111" stroke-width="0.25">200</text>
<text x="251.91" y="508.2" font-size="13.2" text-anchor="middle" font-weight="bold" font-family="'Liberation Serif', 'Times New Roman', serif" fill="#111"  stroke="#111" stroke-width="0.25">300</text>
<path d="M62.6,493.9 h2.5 M62.6,450.9 h2.5 M62.6,407.9 h2.5 M62.6,364.9 h2.5 M79.81,494 v-2.5 M165.86,494 v-2.5 M251.91,494 v-2.5" stroke="#1a1a1a" stroke-width="1.3" fill="none"/>
<text x="21.3" y="405.3" font-size="17.6" text-anchor="middle" font-weight="bold" font-family="'Liberation Serif', 'Times New Roman', serif" fill="#111" transform="rotate(-90 21.3 405.3)" stroke="#111" stroke-width="0.25">Intensity</text>
<text x="87.7" y="534" font-size="16.5" text-anchor="start" font-weight="bold" font-family="'Liberation Serif', 'Times New Roman', serif" fill="#111" textLength="123.9" lengthAdjust="spacingAndGlyphs" stroke="#111" stroke-width="0.25">Raman Shift (cm</text>
<text x="211.6" y="527.6" font-size="11" text-anchor="start" font-weight="bold" font-family="'Liberation Serif', 'Times New Roman', serif" fill="#111"  stroke="#111" stroke-width="0.25">-1</text>
<text x="221.7" y="534" font-size="16.5" text-anchor="start" font-weight="bold" font-family="'Liberation Serif', 'Times New Roman', serif" fill="#111"  stroke="#111" stroke-width="0.25">)</text>
<rect x="219.5" y="341" width="32.3" height="65.3" fill="#fff" stroke="#1a1a1a" stroke-width="1.5"/>
<line x1="220.5" x2="243.7" y1="348.8" y2="348.8" stroke="#363636" stroke-width="1.5"/>
<text x="248" y="351.8" font-size="9" text-anchor="middle" font-weight="bold" font-family="'Liberation Serif', 'Times New Roman', serif" fill="#111"  stroke="#111" stroke-width="0.25">1</text>
<line x1="220.5" x2="243.7" y1="361.4" y2="361.4" stroke="#d03a36" stroke-width="1.5"/>
<text x="248" y="364.4" font-size="9" text-anchor="middle" font-weight="bold" font-family="'Liberation Serif', 'Times New Roman', serif" fill="#111"  stroke="#111" stroke-width="0.25">2</text>
<line x1="220.5" x2="243.7" y1="374" y2="374" stroke="#3d5fae" stroke-width="1.5"/>
<text x="248" y="377" font-size="9" text-anchor="middle" font-weight="bold" font-family="'Liberation Serif', 'Times New Roman', serif" fill="#111"  stroke="#111" stroke-width="0.25">3</text>
<line x1="220.5" x2="243.7" y1="386.6" y2="386.6" stroke="#44a055" stroke-width="1.5"/>
<text x="248" y="389.6" font-size="9" text-anchor="middle" font-weight="bold" font-family="'Liberation Serif', 'Times New Roman', serif" fill="#111"  stroke="#111" stroke-width="0.25">4</text>
<line x1="220.5" x2="243.7" y1="399.2" y2="399.2" stroke="#9d6acb" stroke-width="1.5"/>
<text x="248" y="402.2" font-size="9" text-anchor="middle" font-weight="bold" font-family="'Liberation Serif', 'Times New Roman', serif" fill="#111"  stroke="#111" stroke-width="0.25">5</text>
<g font-weight="bold" font-family="'Liberation Serif', 'Times New Roman', serif" fill="#111"><text x="255.4" y="334.85" font-size="28.9">(</text><text x="280.65" y="334.85" font-size="28.9">)</text><text x="266.5" y="338.1" font-size="30">c</text></g>
<g fill="none" stroke-width="1.8" stroke-linejoin="round">
<polyline stroke="#363636" points="314.2,494.36 314.67,494.36 315.15,494.36 315.62,494.36 316.09,494.36 316.57,494.36 317.04,494.36 317.51,494.36 317.99,494.36 318.46,494.36 318.93,494.36 319.41,494.36 319.88,494.36 320.35,494.36 320.82,494.36 321.3,494.36 321.77,494.36 322.24,494.36 322.72,494.36 323.19,494.36 323.66,494.36 324.14,494.36 324.61,494.36 325.08,494.36 325.56,494.36 326.03,494.36 326.5,494.36 326.98,494.36 327.45,494.36 327.92,494.36 328.4,494.36 328.87,494.36 329.34,494.36 329.82,494.36 330.29,494.36 330.76,494.36 331.23,494.36 331.71,494.36 332.18,494.36 332.65,494.36 333.13,494.36 333.6,494.36 334.07,494.36 334.55,494.36 335.02,494.36 335.49,494.36 335.97,494.36 336.44,494.36 336.91,494.36 337.39,494.36 337.86,494.36 338.33,494.36 338.81,494.36 339.28,494.36 339.75,494.36 340.23,494.36 340.7,494.36 341.17,494.36 341.64,494.36 342.12,494.36 342.59,494.36 343.06,494.36 343.54,494.36 344.01,494.36 344.48,494.36 344.96,494.36 345.43,494.36 345.9,494.36 346.38,494.36 346.85,494.36 347.32,494.36 347.8,494.36 348.27,494.36 348.74,494.36 349.22,494.36 349.69,494.36 350.16,494.36 350.64,494.36 351.11,494.36 351.58,494.36 352.05,494.36 352.53,494.36 353,494.36 353.47,494.36 353.95,494.36 354.42,494.36 354.89,494.36 355.37,494.36 355.84,494.36 356.31,494.36 356.79,494.36 357.26,494.36 357.73,494.36 358.21,494.36 358.68,494.36 359.15,494.36 359.63,494.36 360.1,494.36 360.57,494.36 361.05,494.36 361.52,494.36 361.99,494.36 362.46,494.36 362.94,494.36 363.41,494.36 363.88,494.36 364.36,494.36 364.83,494.36 365.3,494.36 365.78,494.36 366.25,494.36 366.72,494.36 367.2,494.35 367.67,494.34 368.14,494.33 368.62,494.31 369.09,494.29 369.56,494.27 370.04,494.24 370.51,494.22 370.98,494.18 371.46,494.15 371.93,494.11 372.4,494.08 372.87,494.03 373.35,493.99 373.82,493.95 374.29,493.9 374.77,493.85 375.24,493.8 375.71,493.75 376.19,493.7 376.66,493.64 377.13,493.58 377.61,493.53 378.08,493.47 378.55,493.41 379.03,493.35 379.5,493.29 379.97,493.23 380.45,493.16 380.92,493.08 381.39,493 381.87,492.91 382.34,492.81 382.81,492.7 383.28,492.58 383.76,492.46 384.23,492.32 384.7,492.18 385.18,492.03 385.65,491.88 386.12,491.72 386.6,491.56 387.07,491.39 387.54,491.22 388.02,491.04 388.49,490.86 388.96,490.68 389.44,490.5 389.91,490.31 390.38,490.13 390.86,489.94 391.33,489.75 391.8,489.57 392.28,489.39 392.75,489.2 393.22,489.02 393.69,488.85 394.17,488.67 394.64,488.5 395.11,488.34 395.59,488.18 396.06,488.02 396.53,487.87 397.01,487.72 397.48,487.58 397.95,487.44 398.43,487.3 398.9,487.16 399.37,487.02 399.85,486.89 400.32,486.76 400.79,486.62 401.27,486.49 401.74,486.36 402.21,486.23 402.69,486.1 403.16,485.97 403.63,485.84 404.1,485.71 404.58,485.58 405.05,485.44 405.52,485.31 406,485.18 406.47,485.05 406.94,484.91 407.42,484.78 407.89,484.64 408.36,484.51 408.84,484.37 409.31,484.23 409.78,484.08 410.26,483.94 410.73,483.79 411.2,483.64 411.68,483.48 412.15,483.32 412.62,483.15 413.1,482.98 413.57,482.81 414.04,482.64 414.51,482.46 414.99,482.29 415.46,482.11 415.93,481.94 416.41,481.76 416.88,481.59 417.35,481.41 417.83,481.25 418.3,481.08 418.77,480.92 419.25,480.76 419.72,480.61 420.19,480.46 420.67,480.32 421.14,480.19 421.61,480.06 422.09,479.95 422.56,479.84 423.03,479.73 423.51,479.62 423.98,479.52 424.45,479.41 424.92,479.31 425.4,479.21 425.87,479.11 426.34,479.02 426.82,478.93 427.29,478.85 427.76,478.79 428.24,478.73 428.71,478.68 429.18,478.65 429.66,478.63 430.13,478.63 430.6,478.65 431.08,478.69 431.55,478.75 432.02,478.83 432.5,478.93 432.97,479.03 433.44,479.16 433.92,479.29 434.39,479.43 434.86,479.58 435.33,479.73 435.81,479.89 436.28,480.05 436.75,480.21 437.23,480.39 437.7,480.59 438.17,480.8 438.65,481.04 439.12,481.3 439.59,481.58 440.07,481.87 440.54,482.16 441.01,482.46 441.49,482.76 441.96,483.05 442.43,483.34 442.91,483.62 443.38,483.88 443.85,484.13 444.33,484.35 444.8,484.57 445.27,484.78 445.74,484.98 446.22,485.18 446.69,485.37 447.16,485.56 447.64,485.75 448.11,485.94 448.58,486.12 449.06,486.3 449.53,486.48 450,486.66 450.48,486.83 450.95,487 451.42,487.17 451.9,487.33 452.37,487.49 452.84,487.65 453.32,487.81 453.79,487.96 454.26,488.11 454.74,488.25 455.21,488.4 455.68,488.54 456.15,488.68 456.63,488.81 457.1,488.94 457.57,489.07 458.05,489.2 458.52,489.32 458.99,489.45 459.47,489.57 459.94,489.69 460.41,489.8 460.89,489.92 461.36,490.04 461.83,490.15 462.31,490.27 462.78,490.38 463.25,490.49 463.73,490.6 464.2,490.71 464.67,490.82 465.15,490.93 465.62,491.03 466.09,491.13 466.56,491.23 467.04,491.32 467.51,491.42 467.98,491.51 468.46,491.59 468.93,491.68 469.4,491.76 469.88,491.84 470.35,491.91 470.82,491.98 471.3,492.05 471.77,492.11 472.24,492.17 472.72,492.23 473.19,492.28 473.66,492.33 474.14,492.38 474.61,492.42 475.08,492.47 475.56,492.52 476.03,492.56 476.5,492.61 476.97,492.65 477.45,492.7 477.92,492.74 478.39,492.79 478.87,492.83 479.34,492.88 479.81,492.92 480.29,492.96 480.76,493 481.23,493.04 481.71,493.09 482.18,493.13 482.65,493.17 483.13,493.21 483.6,493.24 484.07,493.28 484.55,493.32 485.02,493.36 485.49,493.39 485.97,493.43 486.44,493.46 486.91,493.5 487.38,493.53 487.86,493.56 488.33,493.6 488.8,493.63 489.28,493.66 489.75,493.69 490.22,493.72 490.7,493.74 491.17,493.77 491.64,493.8 492.12,493.82 492.59,493.85 493.06,493.87 493.54,493.89 494.01,493.92 494.48,493.94 494.96,493.96 495.43,493.98 495.9,493.99 496.38,494.01 496.85,494.03 497.32,494.04 497.79,494.05 498.27,494.07 498.74,494.08 499.21,494.09 499.69,494.1 500.16,494.11 500.63,494.11 501.11,494.12 501.58,494.12 502.05,494.13 502.53,494.13 503,494.13"/>
<polyline stroke="#d03a36" points="314.2,492.72 314.67,492.72 315.15,492.72 315.62,492.72 316.09,492.72 316.57,492.72 317.04,492.72 317.51,492.72 317.99,492.72 318.46,492.72 318.93,492.72 319.41,492.72 319.88,492.72 320.35,492.72 320.82,492.72 321.3,492.72 321.77,492.72 322.24,492.72 322.72,492.72 323.19,492.72 323.66,492.72 324.14,492.72 324.61,492.72 325.08,492.72 325.56,492.72 326.03,492.72 326.5,492.72 326.98,492.72 327.45,492.72 327.92,492.72 328.4,492.72 328.87,492.72 329.34,492.72 329.82,492.72 330.29,492.72 330.76,492.72 331.23,492.72 331.71,492.72 332.18,492.72 332.65,492.72 333.13,492.72 333.6,492.72 334.07,492.72 334.55,492.72 335.02,492.72 335.49,492.72 335.97,492.72 336.44,492.72 336.91,492.72 337.39,492.72 337.86,492.72 338.33,492.72 338.81,492.72 339.28,492.72 339.75,492.72 340.23,492.71 340.7,492.71 341.17,492.71 341.64,492.71 342.12,492.71 342.59,492.7 343.06,492.7 343.54,492.7 344.01,492.69 344.48,492.69 344.96,492.69 345.43,492.68 345.9,492.68 346.38,492.67 346.85,492.67 347.32,492.66 347.8,492.66 348.27,492.65 348.74,492.64 349.22,492.64 349.69,492.63 350.16,492.62 350.64,492.61 351.11,492.61 351.58,492.6 352.05,492.59 352.53,492.58 353,492.57 353.47,492.56 353.95,492.55 354.42,492.54 354.89,492.53 355.37,492.52 355.84,492.5 356.31,492.49 356.79,492.47 357.26,492.45 357.73,492.43 358.21,492.39 358.68,492.35 359.15,492.3 359.63,492.25 360.1,492.19 360.57,492.13 361.05,492.06 361.52,491.98 361.99,491.9 362.46,491.81 362.94,491.7 363.41,491.58 363.88,491.45 364.36,491.31 364.83,491.16 365.3,491 365.78,490.83 366.25,490.65 366.72,490.45 367.2,490.22 367.67,489.98 368.14,489.71 368.62,489.42 369.09,489.12 369.56,488.8 370.04,488.47 370.51,488.13 370.98,487.77 371.46,487.39 371.93,486.98 372.4,486.55 372.87,486.1 373.35,485.63 373.82,485.14 374.29,484.62 374.77,484.1 375.24,483.55 375.71,482.98 376.19,482.39 376.66,481.76 377.13,481.11 377.61,480.44 378.08,479.74 378.55,479.03 379.03,478.31 379.5,477.58 379.97,476.85 380.45,476.11 380.92,475.37 381.39,474.61 381.87,473.85 382.34,473.08 382.81,472.29 383.28,471.51 383.76,470.71 384.23,469.91 384.7,469.11 385.18,468.31 385.65,467.5 386.12,466.68 386.6,465.86 387.07,465.04 387.54,464.21 388.02,463.38 388.49,462.54 388.96,461.71 389.44,460.88 389.91,460.06 390.38,459.23 390.86,458.41 391.33,457.59 391.8,456.77 392.28,455.94 392.75,455.12 393.22,454.29 393.69,453.46 394.17,452.63 394.64,451.8 395.11,450.97 395.59,450.13 396.06,449.3 396.53,448.46 397.01,447.62 397.48,446.77 397.95,445.91 398.43,445.04 398.9,444.16 399.37,443.27 399.85,442.37 400.32,441.46 400.79,440.54 401.27,439.61 401.74,438.66 402.21,437.71 402.69,436.75 403.16,435.78 403.63,434.8 404.1,433.82 404.58,432.82 405.05,431.82 405.52,430.79 406,429.7 406.47,428.55 406.94,427.32 407.42,425.99 407.89,424.59 408.36,423.13 408.84,421.63 409.31,420.11 409.78,418.56 410.26,416.99 410.73,415.42 411.2,413.84 411.68,412.25 412.15,410.65 412.62,409.04 413.1,407.4 413.57,405.75 414.04,404.07 414.51,402.38 414.99,400.68 415.46,398.99 415.93,397.31 416.41,395.64 416.88,393.98 417.35,392.34 417.83,390.7 418.3,389.08 418.77,387.46 419.25,385.85 419.72,384.25 420.19,382.66 420.67,381.08 421.14,379.51 421.61,377.95 422.09,376.4 422.56,374.86 423.03,373.34 423.51,371.83 423.98,370.35 424.45,368.91 424.92,367.52 425.4,366.19 425.87,364.92 426.34,363.74 426.82,362.67 427.29,361.76 427.76,361 428.24,360.39 428.71,359.95 429.18,359.71 429.66,359.69 430.13,359.88 430.6,360.24 431.08,360.74 431.55,361.39 432.02,362.19 432.5,363.14 432.97,364.21 433.44,365.35 433.92,366.53 434.39,367.78 434.86,369.08 435.33,370.45 435.81,371.9 436.28,373.42 436.75,375.03 437.23,376.73 437.7,378.51 438.17,380.37 438.65,382.28 439.12,384.24 439.59,386.22 440.07,388.22 440.54,390.22 441.01,392.19 441.49,394.14 441.96,396.03 442.43,397.87 442.91,399.64 443.38,401.35 443.85,403.01 444.33,404.62 444.8,406.21 445.27,407.77 445.74,409.32 446.22,410.86 446.69,412.4 447.16,413.95 447.64,415.5 448.11,417.06 448.58,418.63 449.06,420.2 449.53,421.77 450,423.33 450.48,424.89 450.95,426.43 451.42,427.95 451.9,429.45 452.37,430.92 452.84,432.37 453.32,433.79 453.79,435.2 454.26,436.59 454.74,437.96 455.21,439.31 455.68,440.64 456.15,441.96 456.63,443.26 457.1,444.54 457.57,445.79 458.05,447.02 458.52,448.23 458.99,449.43 459.47,450.61 459.94,451.78 460.41,452.94 460.89,454.09 461.36,455.22 461.83,456.32 462.31,457.39 462.78,458.43 463.25,459.42 463.73,460.37 464.2,461.27 464.67,462.13 465.15,462.95 465.62,463.74 466.09,464.5 466.56,465.24 467.04,465.96 467.51,466.66 467.98,467.34 468.46,468 468.93,468.63 469.4,469.25 469.88,469.85 470.35,470.42 470.82,470.98 471.3,471.52 471.77,472.05 472.24,472.55 472.72,473.05 473.19,473.53 473.66,474 474.14,474.45 474.61,474.9 475.08,475.34 475.56,475.76 476.03,476.18 476.5,476.59 476.97,476.99 477.45,477.38 477.92,477.77 478.39,478.15 478.87,478.52 479.34,478.89 479.81,479.25 480.29,479.61 480.76,479.96 481.23,480.31 481.71,480.65 482.18,480.99 482.65,481.33 483.13,481.66 483.6,481.99 484.07,482.32 484.55,482.64 485.02,482.96 485.49,483.27 485.97,483.58 486.44,483.89 486.91,484.19 487.38,484.48 487.86,484.78 488.33,485.07 488.8,485.35 489.28,485.63 489.75,485.91 490.22,486.19 490.7,486.46 491.17,486.72 491.64,486.99 492.12,487.24 492.59,487.5 493.06,487.75 493.54,488 494.01,488.25 494.48,488.49 494.96,488.73 495.43,488.96 495.9,489.2 496.38,489.43 496.85,489.65 497.32,489.88 497.79,490.1 498.27,490.31 498.74,490.53 499.21,490.74 499.69,490.94 500.16,491.15 500.63,491.35 501.11,491.54 501.58,491.73 502.05,491.92 502.53,492.07 503,492.19"/>
<polyline stroke="#3d5fae" points="314.2,492.48 314.67,492.48 315.15,492.48 315.62,492.48 316.09,492.48 316.57,492.48 317.04,492.48 317.51,492.48 317.99,492.48 318.46,492.48 318.93,492.48 319.41,492.48 319.88,492.48 320.35,492.48 320.82,492.48 321.3,492.48 321.77,492.48 322.24,492.48 322.72,492.48 323.19,492.48 323.66,492.48 324.14,492.48 324.61,492.48 325.08,492.48 325.56,492.48 326.03,492.48 326.5,492.48 326.98,492.48 327.45,492.48 327.92,492.48 328.4,492.48 328.87,492.48 329.34,492.48 329.82,492.48 330.29,492.48 330.76,492.48 331.23,492.48 331.71,492.48 332.18,492.48 332.65,492.48 333.13,492.48 333.6,492.48 334.07,492.48 334.55,492.48 335.02,492.48 335.49,492.48 335.97,492.48 336.44,492.48 336.91,492.48 337.39,492.48 337.86,492.48 338.33,492.48 338.81,492.48 339.28,492.48 339.75,492.48 340.23,492.48 340.7,492.48 341.17,492.48 341.64,492.47 342.12,492.47 342.59,492.47 343.06,492.47 343.54,492.46 344.01,492.46 344.48,492.46 344.96,492.45 345.43,492.45 345.9,492.44 346.38,492.44 346.85,492.43 347.32,492.43 347.8,492.42 348.27,492.41 348.74,492.41 349.22,492.4 349.69,492.39 350.16,492.39 350.64,492.38 351.11,492.37 351.58,492.36 352.05,492.35 352.53,492.34 353,492.33 353.47,492.32 353.95,492.31 354.42,492.3 354.89,492.29 355.37,492.28 355.84,492.27 356.31,492.26 356.79,492.24 357.26,492.22 357.73,492.19 358.21,492.16 358.68,492.12 359.15,492.07 359.63,492.02 360.1,491.97 360.57,491.91 361.05,491.85 361.52,491.78 361.99,491.7 362.46,491.61 362.94,491.51 363.41,491.41 363.88,491.29 364.36,491.16 364.83,491.02 365.3,490.87 365.78,490.71 366.25,490.53 366.72,490.33 367.2,490.11 367.67,489.87 368.14,489.6 368.62,489.32 369.09,489.01 369.56,488.69 370.04,488.36 370.51,488.01 370.98,487.65 371.46,487.27 371.93,486.86 372.4,486.44 372.87,485.98 373.35,485.51 373.82,485.02 374.29,484.51 374.77,483.98 375.24,483.43 375.71,482.86 376.19,482.27 376.66,481.65 377.13,480.99 377.61,480.32 378.08,479.62 378.55,478.91 379.03,478.19 379.5,477.46 379.97,476.73 380.45,475.99 380.92,475.25 381.39,474.5 381.87,473.73 382.34,472.96 382.81,472.18 383.28,471.39 383.76,470.59 384.23,469.8 384.7,469 385.18,468.19 385.65,467.38 386.12,466.57 386.6,465.74 387.07,464.92 387.54,464.09 388.02,463.26 388.49,462.43 388.96,461.6 389.44,460.77 389.91,459.94 390.38,459.12 390.86,458.29 391.33,457.47 391.8,456.65 392.28,455.83 392.75,455 393.22,454.18 393.69,453.35 394.17,452.52 394.64,451.68 395.11,450.85 395.59,450.02 396.06,449.18 396.53,448.34 397.01,447.5 397.48,446.65 397.95,445.79 398.43,444.93 398.9,444.05 399.37,443.16 399.85,442.26 400.32,441.35 400.79,440.43 401.27,439.5 401.74,438.56 402.21,437.61 402.69,436.65 403.16,435.67 403.63,434.68 404.1,433.67 404.58,432.65 405.05,431.61 405.52,430.55 406,429.48 406.47,428.4 406.94,427.3 407.42,426.19 407.89,425.06 408.36,423.91 408.84,422.74 409.31,421.55 409.78,420.34 410.26,419.12 410.73,417.87 411.2,416.61 411.68,415.34 412.15,414.06 412.62,412.78 413.1,411.49 413.57,410.19 414.04,408.87 414.51,407.54 414.99,406.2 415.46,404.85 415.93,403.51 416.41,402.17 416.88,400.86 417.35,399.57 417.83,398.31 418.3,397.08 418.77,395.87 419.25,394.69 419.72,393.52 420.19,392.37 420.67,391.24 421.14,390.13 421.61,389.03 422.09,387.95 422.56,386.87 423.03,385.8 423.51,384.72 423.98,383.64 424.45,382.61 424.92,381.63 425.4,380.76 425.87,380 426.34,379.33 426.82,378.76 427.29,378.28 427.76,377.93 428.24,377.73 428.71,377.68 429.18,377.77 429.66,377.97 430.13,378.26 430.6,378.65 431.08,379.15 431.55,379.81 432.02,380.62 432.5,381.56 432.97,382.6 433.44,383.68 433.92,384.76 434.39,385.84 434.86,386.91 435.33,387.99 435.81,389.08 436.28,390.2 436.75,391.34 437.23,392.5 437.7,393.69 438.17,394.91 438.65,396.16 439.12,397.44 439.59,398.75 440.07,400.11 440.54,401.53 441.01,403.01 441.49,404.54 441.96,406.12 442.43,407.74 442.91,409.36 443.38,410.99 443.85,412.6 444.33,414.2 444.8,415.79 445.27,417.38 445.74,418.98 446.22,420.58 446.69,422.18 447.16,423.76 447.64,425.33 448.11,426.87 448.58,428.38 449.06,429.85 449.53,431.27 450,432.64 450.48,433.97 450.95,435.26 451.42,436.52 451.9,437.76 452.37,438.97 452.84,440.15 453.32,441.32 453.79,442.46 454.26,443.58 454.74,444.68 455.21,445.75 455.68,446.81 456.15,447.85 456.63,448.86 457.1,449.86 457.57,450.84 458.05,451.82 458.52,452.77 458.99,453.72 459.47,454.65 459.94,455.57 460.41,456.47 460.89,457.36 461.36,458.22 461.83,459.06 462.31,459.88 462.78,460.68 463.25,461.45 463.73,462.19 464.2,462.91 464.67,463.6 465.15,464.27 465.62,464.92 466.09,465.55 466.56,466.17 467.04,466.78 467.51,467.37 467.98,467.95 468.46,468.51 468.93,469.06 469.4,469.6 469.88,470.13 470.35,470.64 470.82,471.14 471.3,471.63 471.77,472.11 472.24,472.58 472.72,473.03 473.19,473.48 473.66,473.91 474.14,474.34 474.61,474.76 475.08,475.17 475.56,475.58 476.03,475.97 476.5,476.36 476.97,476.75 477.45,477.13 477.92,477.5 478.39,477.86 478.87,478.22 479.34,478.57 479.81,478.92 480.29,479.26 480.76,479.59 481.23,479.92 481.71,480.24 482.18,480.56 482.65,480.87 483.13,481.18 483.6,481.48 484.07,481.77 484.55,482.06 485.02,482.34 485.49,482.62 485.97,482.89 486.44,483.16 486.91,483.42 487.38,483.67 487.86,483.92 488.33,484.17 488.8,484.41 489.28,484.65 489.75,484.88 490.22,485.11 490.7,485.34 491.17,485.57 491.64,485.79 492.12,486.02 492.59,486.24 493.06,486.46 493.54,486.68 494.01,486.9 494.48,487.12 494.96,487.34 495.43,487.57 495.9,487.79 496.38,488 496.85,488.22 497.32,488.44 497.79,488.65 498.27,488.86 498.74,489.08 499.21,489.28 499.69,489.49 500.16,489.7 500.63,489.9 501.11,490.11 501.58,490.31 502.05,490.5 502.53,490.67 503,490.79"/>
<polyline stroke="#44a055" points="314.2,493.89 314.67,493.89 315.15,493.89 315.62,493.89 316.09,493.89 316.57,493.89 317.04,493.89 317.51,493.89 317.99,493.89 318.46,493.89 318.93,493.89 319.41,493.89 319.88,493.89 320.35,493.89 320.82,493.89 321.3,493.89 321.77,493.89 322.24,493.89 322.72,493.89 323.19,493.89 323.66,493.89 324.14,493.89 324.61,493.89 325.08,493.89 325.56,493.89 326.03,493.89 326.5,493.89 326.98,493.89 327.45,493.89 327.92,493.89 328.4,493.89 328.87,493.89 329.34,493.89 329.82,493.89 330.29,493.89 330.76,493.89 331.23,493.89 331.71,493.89 332.18,493.89 332.65,493.89 333.13,493.89 333.6,493.89 334.07,493.89 334.55,493.89 335.02,493.89 335.49,493.89 335.97,493.89 336.44,493.89 336.91,493.89 337.39,493.89 337.86,493.89 338.33,493.89 338.81,493.89 339.28,493.89 339.75,493.89 340.23,493.89 340.7,493.89 341.17,493.89 341.64,493.89 342.12,493.89 342.59,493.89 343.06,493.89 343.54,493.89 344.01,493.89 344.48,493.89 344.96,493.89 345.43,493.89 345.9,493.89 346.38,493.89 346.85,493.89 347.32,493.89 347.8,493.89 348.27,493.89 348.74,493.89 349.22,493.89 349.69,493.89 350.16,493.89 350.64,493.89 351.11,493.89 351.58,493.89 352.05,493.89 352.53,493.89 353,493.89 353.47,493.89 353.95,493.89 354.42,493.89 354.89,493.89 355.37,493.89 355.84,493.89 356.31,493.89 356.79,493.89 357.26,493.89 357.73,493.89 358.21,493.89 358.68,493.89 359.15,493.89 359.63,493.89 360.1,493.89 360.57,493.89 361.05,493.89 361.52,493.89 361.99,493.89 362.46,493.89 362.94,493.89 363.41,493.89 363.88,493.89 364.36,493.89 364.83,493.89 365.3,493.89 365.78,493.89 366.25,493.89 366.72,493.89 367.2,493.88 367.67,493.87 368.14,493.85 368.62,493.83 369.09,493.81 369.56,493.78 370.04,493.75 370.51,493.72 370.98,493.68 371.46,493.64 371.93,493.6 372.4,493.56 372.87,493.51 373.35,493.46 373.82,493.4 374.29,493.35 374.77,493.29 375.24,493.23 375.71,493.17 376.19,493.1 376.66,493.04 377.13,492.97 377.61,492.9 378.08,492.83 378.55,492.76 379.03,492.68 379.5,492.61 379.97,492.53 380.45,492.44 380.92,492.35 381.39,492.24 381.87,492.12 382.34,491.98 382.81,491.84 383.28,491.67 383.76,491.5 384.23,491.31 384.7,491.12 385.18,490.91 385.65,490.69 386.12,490.47 386.6,490.23 387.07,489.99 387.54,489.74 388.02,489.49 388.49,489.23 388.96,488.96 389.44,488.69 389.91,488.42 390.38,488.14 390.86,487.87 391.33,487.59 391.8,487.31 392.28,487.03 392.75,486.75 393.22,486.47 393.69,486.2 394.17,485.93 394.64,485.66 395.11,485.39 395.59,485.13 396.06,484.88 396.53,484.63 397.01,484.38 397.48,484.14 397.95,483.9 398.43,483.65 398.9,483.4 399.37,483.16 399.85,482.91 400.32,482.66 400.79,482.41 401.27,482.15 401.74,481.9 402.21,481.65 402.69,481.39 403.16,481.14 403.63,480.88 404.1,480.63 404.58,480.37 405.05,480.11 405.52,479.85 406,479.6 406.47,479.34 406.94,479.08 407.42,478.82 407.89,478.56 408.36,478.31 408.84,478.05 409.31,477.79 409.78,477.53 410.26,477.27 410.73,477.01 411.2,476.74 411.68,476.47 412.15,476.19 412.62,475.91 413.1,475.62 413.57,475.33 414.04,475.04 414.51,474.75 414.99,474.46 415.46,474.16 415.93,473.87 416.41,473.59 416.88,473.3 417.35,473.02 417.83,472.74 418.3,472.47 418.77,472.21 419.25,471.96 419.72,471.71 420.19,471.47 420.67,471.25 421.14,471.03 421.61,470.83 422.09,470.64 422.56,470.46 423.03,470.29 423.51,470.12 423.98,469.95 424.45,469.78 424.92,469.61 425.4,469.45 425.87,469.3 426.34,469.15 426.82,469.01 427.29,468.89 427.76,468.78 428.24,468.69 428.71,468.61 429.18,468.56 429.66,468.53 430.13,468.53 430.6,468.55 431.08,468.59 431.55,468.66 432.02,468.74 432.5,468.84 432.97,468.97 433.44,469.1 433.92,469.25 434.39,469.41 434.86,469.58 435.33,469.76 435.81,469.94 436.28,470.13 436.75,470.33 437.23,470.56 437.7,470.81 438.17,471.1 438.65,471.43 439.12,471.79 439.59,472.18 440.07,472.59 440.54,473.02 441.01,473.46 441.49,473.9 441.96,474.34 442.43,474.78 442.91,475.2 443.38,475.6 443.85,475.98 444.33,476.34 444.8,476.69 445.27,477.02 445.74,477.35 446.22,477.68 446.69,478 447.16,478.32 447.64,478.65 448.11,478.96 448.58,479.28 449.06,479.59 449.53,479.9 450,480.21 450.48,480.51 450.95,480.81 451.42,481.11 451.9,481.4 452.37,481.69 452.84,481.97 453.32,482.25 453.79,482.52 454.26,482.79 454.74,483.06 455.21,483.32 455.68,483.57 456.15,483.82 456.63,484.06 457.1,484.29 457.57,484.52 458.05,484.74 458.52,484.96 458.99,485.17 459.47,485.38 459.94,485.59 460.41,485.8 460.89,486 461.36,486.2 461.83,486.41 462.31,486.61 462.78,486.81 463.25,487 463.73,487.19 464.2,487.38 464.67,487.57 465.15,487.75 465.62,487.93 466.09,488.11 466.56,488.28 467.04,488.45 467.51,488.61 467.98,488.77 468.46,488.92 468.93,489.07 469.4,489.21 469.88,489.34 470.35,489.47 470.82,489.59 471.3,489.7 471.77,489.81 472.24,489.91 472.72,490 473.19,490.08 473.66,490.16 474.14,490.24 474.61,490.32 475.08,490.39 475.56,490.47 476.03,490.54 476.5,490.61 476.97,490.69 477.45,490.76 477.92,490.83 478.39,490.9 478.87,490.97 479.34,491.04 479.81,491.11 480.29,491.17 480.76,491.24 481.23,491.31 481.71,491.37 482.18,491.44 482.65,491.5 483.13,491.56 483.6,491.62 484.07,491.68 484.55,491.74 485.02,491.8 485.49,491.86 485.97,491.91 486.44,491.97 486.91,492.02 487.38,492.07 487.86,492.12 488.33,492.17 488.8,492.22 489.28,492.27 489.75,492.32 490.22,492.36 490.7,492.41 491.17,492.45 491.64,492.49 492.12,492.53 492.59,492.57 493.06,492.6 493.54,492.64 494.01,492.67 494.48,492.7 494.96,492.74 495.43,492.76 495.9,492.79 496.38,492.82 496.85,492.84 497.32,492.86 497.79,492.89 498.27,492.91 498.74,492.92 499.21,492.94 499.69,492.95 500.16,492.96 500.63,492.97 501.11,492.98 501.58,492.99 502.05,493 502.53,493 503,493"/>
<polyline stroke="#9d6acb" points="314.2,494.01 314.67,494.01 315.15,494.01 315.62,494.01 316.09,494.01 316.57,494.01 317.04,494.01 317.51,494.01 317.99,494.01 318.46,494.01 318.93,494.01 319.41,494.01 319.88,494.01 320.35,494.01 320.82,494.01 321.3,494.01 321.77,494.01 322.24,494.01 322.72,494.01 323.19,494.01 323.66,494.01 324.14,494.01 324.61,494.01 325.08,494.01 325.56,494.01 326.03,494.01 326.5,494.01 326.98,494.01 327.45,494.01 327.92,494.01 328.4,494.01 328.87,494.01 329.34,494.01 329.82,494.01 330.29,494.01 330.76,494.01 331.23,494.01 331.71,494.01 332.18,494.01 332.65,494.01 333.13,494.01 333.6,494.01 334.07,494.01 334.55,494.01 335.02,494.01 335.49,494.01 335.97,494.01 336.44,494.01 336.91,494.01 337.39,494.01 337.86,494.01 338.33,494.01 338.81,494.01 339.28,494.01 339.75,494.01 340.23,494.01 340.7,494.01 341.17,494.01 341.64,494.01 342.12,494.01 342.59,494.01 343.06,494.01 343.54,494.01 344.01,494.01 344.48,494.01 344.96,494.01 345.43,494.01 345.9,494.01 346.38,494.01 346.85,494.01 347.32,494.01 347.8,494.01 348.27,494.01 348.74,494.01 349.22,494.01 349.69,494.01 350.16,494.01 350.64,494.01 351.11,494.01 351.58,494.01 352.05,494.01 352.53,494.01 353,494.01 353.47,494.01 353.95,494.01 354.42,494.01 354.89,494.01 355.37,494.01 355.84,494.01 356.31,494.01 356.79,494.01 357.26,494.01 357.73,494.01 358.21,494.01 358.68,494.01 359.15,494.01 359.63,494.01 360.1,494.01 360.57,494.01 361.05,494.01 361.52,494.01 361.99,494.01 362.46,494.01 362.94,494.01 363.41,494.01 363.88,494.01 364.36,494.01 364.83,494.01 365.3,494.01 365.78,494.01 366.25,494.01 366.72,494 367.2,493.99 367.67,493.98 368.14,493.96 368.62,493.94 369.09,493.92 369.56,493.89 370.04,493.85 370.51,493.82 370.98,493.78 371.46,493.73 371.93,493.69 372.4,493.64 372.87,493.58 373.35,493.53 373.82,493.47 374.29,493.41 374.77,493.34 375.24,493.28 375.71,493.21 376.19,493.14 376.66,493.07 377.13,493 377.61,492.92 378.08,492.85 378.55,492.77 379.03,492.69 379.5,492.61 379.97,492.53 380.45,492.44 380.92,492.35 381.39,492.24 381.87,492.12 382.34,491.99 382.81,491.84 383.28,491.69 383.76,491.52 384.23,491.35 384.7,491.16 385.18,490.97 385.65,490.76 386.12,490.55 386.6,490.34 387.07,490.12 387.54,489.89 388.02,489.66 388.49,489.43 388.96,489.19 389.44,488.95 389.91,488.71 390.38,488.46 390.86,488.22 391.33,487.98 391.8,487.74 392.28,487.5 392.75,487.26 393.22,487.03 393.69,486.8 394.17,486.57 394.64,486.35 395.11,486.14 395.59,485.93 396.06,485.73 396.53,485.54 397.01,485.35 397.48,485.17 397.95,484.99 398.43,484.81 398.9,484.63 399.37,484.45 399.85,484.27 400.32,484.1 400.79,483.92 401.27,483.75 401.74,483.58 402.21,483.41 402.69,483.24 403.16,483.07 403.63,482.9 404.1,482.73 404.58,482.56 405.05,482.4 405.52,482.23 406,482.07 406.47,481.91 406.94,481.75 407.42,481.59 407.89,481.43 408.36,481.27 408.84,481.12 409.31,480.96 409.78,480.81 410.26,480.65 410.73,480.5 411.2,480.34 411.68,480.19 412.15,480.03 412.62,479.87 413.1,479.71 413.57,479.55 414.04,479.39 414.51,479.24 414.99,479.08 415.46,478.92 415.93,478.77 416.41,478.62 416.88,478.47 417.35,478.32 417.83,478.18 418.3,478.04 418.77,477.9 419.25,477.77 419.72,477.64 420.19,477.52 420.67,477.41 421.14,477.3 421.61,477.19 422.09,477.1 422.56,477 423.03,476.92 423.51,476.83 423.98,476.75 424.45,476.66 424.92,476.58 425.4,476.5 425.87,476.42 426.34,476.35 426.82,476.28 427.29,476.22 427.76,476.16 428.24,476.12 428.71,476.08 429.18,476.06 429.66,476.04 430.13,476.05 430.6,476.07 431.08,476.11 431.55,476.16 432.02,476.24 432.5,476.33 432.97,476.44 433.44,476.56 433.92,476.69 434.39,476.83 434.86,476.98 435.33,477.13 435.81,477.29 436.28,477.46 436.75,477.63 437.23,477.81 437.7,478.02 438.17,478.25 438.65,478.51 439.12,478.79 439.59,479.09 440.07,479.4 440.54,479.72 441.01,480.05 441.49,480.38 441.96,480.71 442.43,481.03 442.91,481.34 443.38,481.63 443.85,481.91 444.33,482.16 444.8,482.41 445.27,482.64 445.74,482.87 446.22,483.09 446.69,483.32 447.16,483.54 447.64,483.75 448.11,483.97 448.58,484.18 449.06,484.38 449.53,484.59 450,484.79 450.48,484.99 450.95,485.19 451.42,485.38 451.9,485.57 452.37,485.76 452.84,485.94 453.32,486.12 453.79,486.3 454.26,486.48 454.74,486.65 455.21,486.82 455.68,486.98 456.15,487.15 456.63,487.31 457.1,487.47 457.57,487.62 458.05,487.77 458.52,487.92 458.99,488.07 459.47,488.21 459.94,488.36 460.41,488.5 460.89,488.65 461.36,488.79 461.83,488.93 462.31,489.08 462.78,489.22 463.25,489.36 463.73,489.49 464.2,489.63 464.67,489.76 465.15,489.89 465.62,490.02 466.09,490.15 466.56,490.27 467.04,490.39 467.51,490.51 467.98,490.62 468.46,490.73 468.93,490.84 469.4,490.94 469.88,491.04 470.35,491.13 470.82,491.21 471.3,491.3 471.77,491.37 472.24,491.44 472.72,491.51 473.19,491.57 473.66,491.63 474.14,491.68 474.61,491.74 475.08,491.79 475.56,491.85 476.03,491.9 476.5,491.95 476.97,492 477.45,492.05 477.92,492.11 478.39,492.16 478.87,492.21 479.34,492.26 479.81,492.3 480.29,492.35 480.76,492.4 481.23,492.45 481.71,492.49 482.18,492.54 482.65,492.58 483.13,492.63 483.6,492.67 484.07,492.72 484.55,492.76 485.02,492.8 485.49,492.84 485.97,492.88 486.44,492.92 486.91,492.96 487.38,493 487.86,493.03 488.33,493.07 488.8,493.1 489.28,493.14 489.75,493.17 490.22,493.2 490.7,493.23 491.17,493.26 491.64,493.29 492.12,493.32 492.59,493.35 493.06,493.37 493.54,493.4 494.01,493.42 494.48,493.45 494.96,493.47 495.43,493.49 495.9,493.51 496.38,493.53 496.85,493.55 497.32,493.56 497.79,493.58 498.27,493.59 498.74,493.6 499.21,493.61 499.69,493.62 500.16,493.63 500.63,493.64 501.11,493.65 501.58,493.65 502.05,493.66 502.53,493.66 503,493.66"/>
</g>
<rect x="314.2" y="341.8" width="189.3" height="152.8" fill="none" stroke="#111" stroke-width="1.7"/>
<text x="309.8" y="498.4" font-size="13.2" text-anchor="end" font-weight="bold" font-family="'Liberation Serif', 'Times New Roman', serif" fill="#111"  stroke="#111" stroke-width="0.25">0</text>
<text x="309.8" y="451.37" font-size="13.2" text-anchor="end" font-weight="bold" font-family="'Liberation Serif', 'Times New Roman', serif" fill="#111"  stroke="#111" stroke-width="0.25">20000</text>
<text x="309.8" y="404.34" font-size="13.2" text-anchor="end" font-weight="bold" font-family="'Liberation Serif', 'Times New Roman', serif" fill="#111"  stroke="#111" stroke-width="0.25">40000</text>
<text x="309.8" y="357.31" font-size="13.2" text-anchor="end" font-weight="bold" font-family="'Liberation Serif', 'Times New Roman', serif" fill="#111"  stroke="#111" stroke-width="0.25">60000</text>
<text x="361.4" y="508.9" font-size="13.2" text-anchor="middle" font-weight="bold" font-family="'Liberation Serif', 'Times New Roman', serif" fill="#111"  stroke="#111" stroke-width="0.25">750</text>
<text x="432.2" y="508.9" font-size="13.2" text-anchor="middle" font-weight="bold" font-family="'Liberation Serif', 'Times New Roman', serif" fill="#111"  stroke="#111" stroke-width="0.25">900</text>
<text x="503" y="508.9" font-size="13.2" text-anchor="middle" font-weight="bold" font-family="'Liberation Serif', 'Times New Roman', serif" fill="#111"  stroke="#111" stroke-width="0.25">1050</text>
<path d="M314.2,494.6 h2.5 M314.2,447.57 h2.5 M314.2,400.54 h2.5 M314.2,353.51 h2.5 M361.4,494.6 v-2.5 M432.2,494.6 v-2.5 M503,494.6 v-2.5" stroke="#1a1a1a" stroke-width="1.3" fill="none"/>
<text x="274.2" y="417.8" font-size="17.6" text-anchor="middle" font-weight="bold" font-family="'Liberation Serif', 'Times New Roman', serif" fill="#111" transform="rotate(-90 274.2 417.8)" stroke="#111" stroke-width="0.25">Intensity</text>
<text x="341.7" y="534.3" font-size="16.5" text-anchor="start" font-weight="bold" font-family="'Liberation Serif', 'Times New Roman', serif" fill="#111" textLength="119.3" lengthAdjust="spacingAndGlyphs" stroke="#111" stroke-width="0.25">Wavelength (cm</text>
<text x="461.1" y="527.8" font-size="11" text-anchor="start" font-weight="bold" font-family="'Liberation Serif', 'Times New Roman', serif" fill="#111"  stroke="#111" stroke-width="0.25">-1</text>
<text x="471.8" y="534.3" font-size="16.5" text-anchor="start" font-weight="bold" font-family="'Liberation Serif', 'Times New Roman', serif" fill="#111"  stroke="#111" stroke-width="0.25">)</text>
<rect x="470.4" y="341.8" width="33.1" height="65" fill="#fff" stroke="#1a1a1a" stroke-width="1.5"/>
<line x1="471.5" x2="494.5" y1="349.5" y2="349.5" stroke="#363636" stroke-width="1.5"/>
<text x="499" y="352.5" font-size="9" text-anchor="middle" font-weight="bold" font-family="'Liberation Serif', 'Times New Roman', serif" fill="#111"  stroke="#111" stroke-width="0.25">1</text>
<line x1="471.5" x2="494.5" y1="362.1" y2="362.1" stroke="#d03a36" stroke-width="1.5"/>
<text x="499" y="365.1" font-size="9" text-anchor="middle" font-weight="bold" font-family="'Liberation Serif', 'Times New Roman', serif" fill="#111"  stroke="#111" stroke-width="0.25">2</text>
<line x1="471.5" x2="494.5" y1="374.7" y2="374.7" stroke="#3d5fae" stroke-width="1.5"/>
<text x="499" y="377.7" font-size="9" text-anchor="middle" font-weight="bold" font-family="'Liberation Serif', 'Times New Roman', serif" fill="#111"  stroke="#111" stroke-width="0.25">3</text>
<line x1="471.5" x2="494.5" y1="387.3" y2="387.3" stroke="#44a055" stroke-width="1.5"/>
<text x="499" y="390.3" font-size="9" text-anchor="middle" font-weight="bold" font-family="'Liberation Serif', 'Times New Roman', serif" fill="#111"  stroke="#111" stroke-width="0.25">4</text>
<line x1="471.5" x2="494.5" y1="399.9" y2="399.9" stroke="#9d6acb" stroke-width="1.5"/>
<text x="499" y="402.9" font-size="9" text-anchor="middle" font-weight="bold" font-family="'Liberation Serif', 'Times New Roman', serif" fill="#111"  stroke="#111" stroke-width="0.25">5</text>
<g font-weight="bold" font-family="'Liberation Serif', 'Times New Roman', serif" fill="#111"><text x="2.2" y="556.1" font-size="29.2">(</text><text x="30.3" y="556.1" font-size="29.2">)</text><text x="12.6" y="559.1" font-size="28.5">d</text></g>
<rect x="60.6" y="562.8" width="190.4" height="153" fill="none" stroke="#111" stroke-width="1.7"/>
<text x="57.3" y="719.6" font-size="13.2" text-anchor="end" font-weight="bold" font-family="'Liberation Serif', 'Times New Roman', serif" fill="#111"  stroke="#111" stroke-width="0.25">0</text>
<text x="57.3" y="673.4" font-size="13.2" text-anchor="end" font-weight="bold" font-family="'Liberation Serif', 'Times New Roman', serif" fill="#111"  stroke="#111" stroke-width="0.25">12000</text>
<text x="57.3" y="627.2" font-size="13.2" text-anchor="end" font-weight="bold" font-family="'Liberation Serif', 'Times New Roman', serif" fill="#111"  stroke="#111" stroke-width="0.25">24000</text>
<text x="57.3" y="581" font-size="13.2" text-anchor="end" font-weight="bold" font-family="'Liberation Serif', 'Times New Roman', serif" fill="#111"  stroke="#111" stroke-width="0.25">36000</text>
<text x="60.6" y="729.2" font-size="13.2" text-anchor="middle" font-weight="bold" font-family="'Liberation Serif', 'Times New Roman', serif" fill="#111"  stroke="#111" stroke-width="0.25">0.0</text>
<text x="136.9" y="729.2" font-size="13.2" text-anchor="middle" font-weight="bold" font-family="'Liberation Serif', 'Times New Roman', serif" fill="#111"  stroke="#111" stroke-width="0.25">0.5</text>
<text x="213.2" y="729.2" font-size="13.2" text-anchor="middle" font-weight="bold" font-family="'Liberation Serif', 'Times New Roman', serif" fill="#111"  stroke="#111" stroke-width="0.25">1.0</text>
<path d="M60.6,715.8 h2.5 M60.6,669.6 h2.5 M60.6,623.4 h2.5 M60.6,577.2 h2.5 M60.6,715.8 v-2.5 M136.9,715.8 v-2.5 M213.2,715.8 v-2.5" stroke="#1a1a1a" stroke-width="1.3" fill="none"/>
<rect x="63.5" y="694.5" width="6.4" height="6.4" fill="#1a1a1a"/>
<rect x="79.6" y="585.2" width="6.4" height="6.4" fill="#1a1a1a"/>
<rect x="140.9" y="589" width="6.4" height="6.4" fill="#1a1a1a"/>
<rect x="145.3" y="664.6" width="6.4" height="6.4" fill="#1a1a1a"/>
<rect x="231.8" y="636.6" width="6.4" height="6.4" fill="#1a1a1a"/>
<rect x="170.5" y="562.8" width="80.5" height="14.2" fill="#fff" stroke="#1a1a1a" stroke-width="1.3"/>
<rect x="179.8" y="567.2" width="6" height="6" fill="#1a1a1a"/>
<text x="197" y="573.6" font-size="10" text-anchor="start" font-weight="bold" font-family="'Liberation Serif', 'Times New Roman', serif" fill="#111"  stroke="#111" stroke-width="0.25">Raman shift</text>
<text x="19.8" y="638.3" font-size="17.6" text-anchor="middle" font-weight="bold" font-family="'Liberation Serif', 'Times New Roman', serif" fill="#111" transform="rotate(-90 19.8 638.3)" stroke="#111" stroke-width="0.25">Intensity</text>
<text x="156.2" y="753.4" font-size="17.5" text-anchor="middle" font-weight="bold" font-family="'Liberation Serif', 'Times New Roman', serif" fill="#111"  stroke="#111" stroke-width="0.25">Contrast</text>
<g font-weight="bold" font-family="'Liberation Serif', 'Times New Roman', serif" fill="#111"><text x="254.1" y="558.8" font-size="29">(</text><text x="279.3" y="558.8" font-size="29">)</text><text x="264.45" y="562.7" font-size="31">e</text></g>
<rect x="312" y="563" width="190" height="152" fill="none" stroke="#111" stroke-width="1.7"/>
<text x="308.3" y="718.8" font-size="13.2" text-anchor="end" font-weight="bold" font-family="'Liberation Serif', 'Times New Roman', serif" fill="#111"  stroke="#111" stroke-width="0.25">0</text>
<text x="308.3" y="675.33" font-size="13.2" text-anchor="end" font-weight="bold" font-family="'Liberation Serif', 'Times New Roman', serif" fill="#111"  stroke="#111" stroke-width="0.25">20000</text>
<text x="308.3" y="631.86" font-size="13.2" text-anchor="end" font-weight="bold" font-family="'Liberation Serif', 'Times New Roman', serif" fill="#111"  stroke="#111" stroke-width="0.25">40000</text>
<text x="308.3" y="588.39" font-size="13.2" text-anchor="end" font-weight="bold" font-family="'Liberation Serif', 'Times New Roman', serif" fill="#111"  stroke="#111" stroke-width="0.25">60000</text>
<text x="311.1" y="728.8" font-size="13.2" text-anchor="middle" font-weight="bold" font-family="'Liberation Serif', 'Times New Roman', serif" fill="#111"  stroke="#111" stroke-width="0.25">0.0</text>
<text x="387.6" y="728.8" font-size="13.2" text-anchor="middle" font-weight="bold" font-family="'Liberation Serif', 'Times New Roman', serif" fill="#111"  stroke="#111" stroke-width="0.25">0.5</text>
<text x="464.1" y="728.8" font-size="13.2" text-anchor="middle" font-weight="bold" font-family="'Liberation Serif', 'Times New Roman', serif" fill="#111"  stroke="#111" stroke-width="0.25">1.0</text>
<path d="M312,715 h2.5 M312,671.53 h2.5 M312,628.06 h2.5 M312,584.59 h2.5 M311.1,715 v-2.5 M387.6,715 v-2.5 M464.1,715 v-2.5" stroke="#1a1a1a" stroke-width="1.3" fill="none"/>
<rect x="314.6" y="697.3" width="6.4" height="6.4" fill="#1a1a1a"/>
<rect x="331.1" y="586.3" width="6.4" height="6.4" fill="#1a1a1a"/>
<rect x="392" y="606.8" width="6.4" height="6.4" fill="#1a1a1a"/>
<rect x="396.2" y="687.6" width="6.4" height="6.4" fill="#1a1a1a"/>
<rect x="482.9" y="694.8" width="6.4" height="6.4" fill="#1a1a1a"/>
<rect x="422.3" y="563" width="79.7" height="13.2" fill="#fff" stroke="#1a1a1a" stroke-width="1.3"/>
<rect x="432" y="566.8" width="6" height="6" fill="#1a1a1a"/>
<text x="449.8" y="572.5" font-size="10" text-anchor="start" font-weight="bold" font-family="'Liberation Serif', 'Times New Roman', serif" fill="#111"  stroke="#111" stroke-width="0.25">Wavelength</text>
<text x="270.3" y="638.3" font-size="17.6" text-anchor="middle" font-weight="bold" font-family="'Liberation Serif', 'Times New Roman', serif" fill="#111" transform="rotate(-90 270.3 638.3)" stroke="#111" stroke-width="0.25">Intensity</text>
<text x="407" y="753" font-size="17.5" text-anchor="middle" font-weight="bold" font-family="'Liberation Serif', 'Times New Roman', serif" fill="#111"  stroke="#111" stroke-width="0.25">Contrast</text>
<g font-weight="bold" font-family="'Liberation Serif', 'Times New Roman', serif" fill="#111"><text x="0.2" y="802.5" font-size="34.3">(</text><text x="24.7" y="802.5" font-size="34.3">)</text><text x="13.05" y="806.9" font-size="34.4">f</text></g>
<circle cx="321.7" cy="992.6" r="134.8" fill="#90cbd8"/>
<g fill="none" stroke="#7dbccb" stroke-width="1"><circle cx="321.7" cy="992.6" r="33.7"/><circle cx="321.7" cy="992.6" r="67.4"/><circle cx="321.7" cy="992.6" r="101.1"/><line x1="321.7" y1="992.6" x2="456.5" y2="992.6"/><line x1="321.7" y1="992.6" x2="438.44" y2="925.2"/><line x1="321.7" y1="992.6" x2="389.1" y2="875.86"/><line x1="321.7" y1="992.6" x2="321.7" y2="857.8"/><line x1="321.7" y1="992.6" x2="254.3" y2="875.86"/><line x1="321.7" y1="992.6" x2="204.96" y2="925.2"/><line x1="321.7" y1="992.6" x2="186.9" y2="992.6"/><line x1="321.7" y1="992.6" x2="204.96" y2="1060"/><line x1="321.7" y1="992.6" x2="254.3" y2="1109.34"/><line x1="321.7" y1="992.6" x2="321.7" y2="1127.4"/><line x1="321.7" y1="992.6" x2="389.1" y2="1109.34"/><line x1="321.7" y1="992.6" x2="438.44" y2="1060"/></g>
<path d="M358.3,992.4 C360.07,991.82 365.11,990.28 368.93,988.92 C372.74,987.57 377.03,986.04 381.18,984.28 C385.32,982.51 389.81,980.48 393.82,978.33 C397.84,976.18 401.73,973.79 405.27,971.38 C408.82,968.96 412.12,966.44 415.08,963.83 C418.03,961.21 420.81,958.5 423.02,955.68 C425.24,952.85 427.15,949.8 428.35,946.9 C429.55,944 430.13,940.93 430.2,938.3 C430.27,935.67 429.76,933.14 428.77,931.12 C427.79,929.11 426.29,927.45 424.27,926.22 C422.26,925 419.6,924.24 416.7,923.8 C413.8,923.36 410.37,923.36 406.9,923.6 C403.43,923.84 399.58,924.43 395.88,925.23 C392.17,926.02 388.31,927.09 384.67,928.38 C381.04,929.66 377.48,931.2 374.08,932.92 C370.67,934.65 367.41,936.61 364.25,938.75 C361.09,940.89 358.05,943.26 355.12,945.75 C352.2,948.24 349.5,950.77 346.7,953.7 C343.9,956.63 341.11,959.86 338.35,963.35 C335.59,966.84 332.56,971.02 330.11,974.62 C327.66,978.23 324.73,983.27 323.65,985 L323.65,985 C323.46,982.15 322.96,973.37 322.51,967.9 C322.06,962.43 321.66,957.03 320.95,952.2 C320.24,947.37 319.5,943.3 318.25,938.9 C317,934.5 315.45,930.21 313.43,925.77 C311.4,921.34 308.81,916.53 306.12,912.3 C303.44,908.07 300.31,903.87 297.3,900.38 C294.29,896.88 291.15,893.75 288.07,891.35 C285,888.95 281.84,887.19 278.83,885.98 C275.81,884.76 272.73,884.21 269.98,884.05 C267.22,883.89 264.54,884.2 262.3,885 C260.06,885.8 258.05,887.02 256.55,888.85 C255.05,890.68 253.95,893.09 253.28,895.97 C252.6,898.86 252.37,902.55 252.5,906.17 C252.63,909.8 253.15,913.93 254.05,917.7 C254.95,921.48 256.29,925.18 257.9,928.82 C259.51,932.47 261.55,935.96 263.7,939.55 C265.85,943.14 268.32,946.85 270.82,950.38 C273.33,953.9 276,957.44 278.75,960.7 C281.5,963.96 284.4,967.04 287.3,969.92 C290.2,972.81 293.18,975.56 296.12,978 C299.07,980.44 301.91,982.49 304.98,984.58 C308.04,986.66 312.91,989.51 314.5,990.5 L314.5,990.5 C312.79,990.5 307.84,990.36 304.23,990.47 C300.61,990.59 296.75,990.78 292.82,991.17 C288.9,991.57 284.61,992.15 280.65,992.85 C276.69,993.55 272.94,994.34 269.05,995.4 C265.16,996.46 261.25,997.67 257.3,999.2 C253.35,1000.73 249.16,1002.57 245.38,1004.6 C241.59,1006.62 237.93,1008.91 234.6,1011.35 C231.27,1013.79 228.13,1016.44 225.38,1019.23 C222.62,1022.01 220.06,1025.06 218.07,1028.08 C216.09,1031.09 214.46,1034.29 213.48,1037.3 C212.49,1040.31 212.02,1043.45 212.15,1046.12 C212.28,1048.8 212.97,1051.38 214.25,1053.35 C215.53,1055.32 217.43,1056.85 219.8,1057.97 C222.17,1059.1 225.21,1059.79 228.45,1060.08 C231.69,1060.36 235.44,1060.29 239.23,1059.7 C243.01,1059.11 247.2,1058 251.18,1056.55 C255.15,1055.1 259.23,1053.1 263.1,1050.97 C266.98,1048.85 270.66,1046.43 274.43,1043.83 C278.19,1041.22 282,1038.24 285.67,1035.35 C289.35,1032.46 293.21,1029.29 296.5,1026.48 C299.79,1023.66 302.77,1021.2 305.4,1018.45 C308.02,1015.7 310.02,1013.11 312.25,1010 C314.48,1006.89 317.71,1001.5 318.8,999.8 L318.8,999.8 C318.95,1002.38 319.28,1009.86 319.7,1015.25 C320.12,1020.64 320.62,1027.02 321.3,1032.12 C321.98,1037.23 322.72,1041.61 323.8,1045.88 C324.88,1050.14 326.14,1053.68 327.8,1057.7 C329.46,1061.72 331.5,1065.96 333.77,1070 C336.05,1074.04 338.72,1078.24 341.48,1081.92 C344.23,1085.61 347.23,1089.27 350.3,1092.12 C353.37,1094.98 356.63,1097.42 359.9,1099.05 C363.17,1100.68 366.76,1101.74 369.9,1101.92 C373.04,1102.11 376.25,1101.49 378.75,1100.17 C381.25,1098.86 383.35,1096.55 384.93,1094.03 C386.5,1091.5 387.53,1088.24 388.2,1085 C388.87,1081.76 389.08,1078.13 388.95,1074.6 C388.82,1071.07 388.32,1067.47 387.43,1063.82 C386.53,1060.17 385.27,1056.48 383.6,1052.7 C381.93,1048.92 379.74,1044.83 377.4,1041.12 C375.06,1037.42 372.18,1033.73 369.57,1030.47 C366.97,1027.22 364.2,1024.27 361.75,1021.58 C359.3,1018.88 357.03,1016.45 354.88,1014.33 C352.72,1012.2 349.81,1009.72 348.8,1008.8" fill="none" stroke="#c43530" stroke-width="3.1" stroke-linejoin="round" stroke-linecap="round"/>
<rect x="355" y="989.1" width="6.6" height="6.6" fill="#1a1a1a"/>
<rect x="429.3" y="926.1" width="6.6" height="6.6" fill="#1a1a1a"/>
<rect x="335.9" y="958.6" width="6.6" height="6.6" fill="#1a1a1a"/>
<rect x="317.9" y="947.4" width="6.6" height="6.6" fill="#1a1a1a"/>
<rect x="259.9" y="888.6" width="6.6" height="6.6" fill="#1a1a1a"/>
<rect x="293.3" y="975.7" width="6.6" height="6.6" fill="#1a1a1a"/>
<rect x="276.4" y="989.5" width="6.6" height="6.6" fill="#1a1a1a"/>
<rect x="210.2" y="1050.9" width="6.6" height="6.6" fill="#1a1a1a"/>
<rect x="303.1" y="1015.3" width="6.6" height="6.6" fill="#1a1a1a"/>
<rect x="318" y="1031.8" width="6.6" height="6.6" fill="#1a1a1a"/>
<rect x="378.1" y="1093.9" width="6.6" height="6.6" fill="#1a1a1a"/>
<rect x="345.5" y="1005.5" width="6.6" height="6.6" fill="#1a1a1a"/>
<circle cx="321.7" cy="992.6" r="134.8" fill="none" stroke="#1a1a1a" stroke-width="1.6"/>
<path d="M456.5,992.6 L451.5,992.6 M451.91,957.71 L449.01,958.49 M438.44,925.2 L434.11,927.7 M417.02,897.28 L414.9,899.4 M389.1,875.86 L386.6,880.19 M356.59,862.39 L355.81,865.29 M321.7,857.8 L321.7,862.8 M286.81,862.39 L287.59,865.29 M254.3,875.86 L256.8,880.19 M226.38,897.28 L228.5,899.4 M204.96,925.2 L209.29,927.7 M191.49,957.71 L194.39,958.49 M186.9,992.6 L191.9,992.6 M191.49,1027.49 L194.39,1026.71 M204.96,1060 L209.29,1057.5 M226.38,1087.92 L228.5,1085.8 M254.3,1109.34 L256.8,1105.01 M286.81,1122.81 L287.59,1119.91 M321.7,1127.4 L321.7,1122.4 M356.59,1122.81 L355.81,1119.91 M389.1,1109.34 L386.6,1105.01 M417.02,1087.92 L414.9,1085.8 M438.44,1060 L434.11,1057.5 M451.91,1027.49 L449.01,1026.71" stroke="#1a1a1a" stroke-width="1.4" fill="none"/>
<text x="321.2" y="848.3" font-size="22.5" text-anchor="middle" font-weight="bold" font-family="'Liberation Serif', 'Times New Roman', serif" fill="#111"  stroke="#111" stroke-width="0.25">90</text>
<text x="234.75" y="866.6" font-size="22.5" text-anchor="middle" font-weight="bold" font-family="'Liberation Serif', 'Times New Roman', serif" fill="#111"  stroke="#111" stroke-width="0.25">120</text>
<text x="402.85" y="867" font-size="22.5" text-anchor="middle" font-weight="bold" font-family="'Liberation Serif', 'Times New Roman', serif" fill="#111"  stroke="#111" stroke-width="0.25">60</text>
<text x="454.05" y="918" font-size="22.5" text-anchor="middle" font-weight="bold" font-family="'Liberation Serif', 'Times New Roman', serif" fill="#111"  stroke="#111" stroke-width="0.25">30</text>
<text x="467.5" y="1000.2" font-size="22.5" text-anchor="middle" font-weight="bold" font-family="'Liberation Serif', 'Times New Roman', serif" fill="#111"  stroke="#111" stroke-width="0.25">0</text>
<text x="459.45" y="1082.3" font-size="22.5" text-anchor="middle" font-weight="bold" font-family="'Liberation Serif', 'Times New Roman', serif" fill="#111"  stroke="#111" stroke-width="0.25">330</text>
<text x="408.35" y="1136" font-size="22.5" text-anchor="middle" font-weight="bold" font-family="'Liberation Serif', 'Times New Roman', serif" fill="#111"  stroke="#111" stroke-width="0.25">300</text>
<text x="321.25" y="1153" font-size="22.5" text-anchor="middle" font-weight="bold" font-family="'Liberation Serif', 'Times New Roman', serif" fill="#111"  stroke="#111" stroke-width="0.25">270</text>
<text x="234.65" y="1136.1" font-size="22.5" text-anchor="middle" font-weight="bold" font-family="'Liberation Serif', 'Times New Roman', serif" fill="#111"  stroke="#111" stroke-width="0.25">240</text>
<text x="181.5" y="1083" font-size="22.5" text-anchor="middle" font-weight="bold" font-family="'Liberation Serif', 'Times New Roman', serif" fill="#111"  stroke="#111" stroke-width="0.25">210</text>
<text x="164.5" y="1001.5" font-size="22.5" text-anchor="middle" font-weight="bold" font-family="'Liberation Serif', 'Times New Roman', serif" fill="#111"  stroke="#111" stroke-width="0.25">180</text>
<text x="182.35" y="918.5" font-size="22.5" text-anchor="middle" font-weight="bold" font-family="'Liberation Serif', 'Times New Roman', serif" fill="#111"  stroke="#111" stroke-width="0.25">150</text>
<line x1="140" y1="857.3000000000001" x2="140" y2="1128.8000000000002" stroke="#111" stroke-width="1.9"/>
<text x="131.2" y="866.3" font-size="22.2" text-anchor="end" font-weight="bold" font-family="'Liberation Serif', 'Times New Roman', serif" fill="#111"  stroke="#111" stroke-width="0.25">20000</text>
<text x="131.2" y="900.01" font-size="22.2" text-anchor="end" font-weight="bold" font-family="'Liberation Serif', 'Times New Roman', serif" fill="#111"  stroke="#111" stroke-width="0.25">15000</text>
<text x="131.2" y="933.73" font-size="22.2" text-anchor="end" font-weight="bold" font-family="'Liberation Serif', 'Times New Roman', serif" fill="#111"  stroke="#111" stroke-width="0.25">10000</text>
<text x="131.2" y="967.44" font-size="22.2" text-anchor="end" font-weight="bold" font-family="'Liberation Serif', 'Times New Roman', serif" fill="#111"  stroke="#111" stroke-width="0.25">5000</text>
<text x="131.2" y="1001.15" font-size="22.2" text-anchor="end" font-weight="bold" font-family="'Liberation Serif', 'Times New Roman', serif" fill="#111"  stroke="#111" stroke-width="0.25">0</text>
<text x="131.2" y="1034.86" font-size="22.2" text-anchor="end" font-weight="bold" font-family="'Liberation Serif', 'Times New Roman', serif" fill="#111"  stroke="#111" stroke-width="0.25">5000</text>
<text x="131.2" y="1068.58" font-size="22.2" text-anchor="end" font-weight="bold" font-family="'Liberation Serif', 'Times New Roman', serif" fill="#111"  stroke="#111" stroke-width="0.25">10000</text>
<text x="131.2" y="1102.29" font-size="22.2" text-anchor="end" font-weight="bold" font-family="'Liberation Serif', 'Times New Roman', serif" fill="#111"  stroke="#111" stroke-width="0.25">15000</text>
<text x="131.2" y="1136" font-size="22.2" text-anchor="end" font-weight="bold" font-family="'Liberation Serif', 'Times New Roman', serif" fill="#111"  stroke="#111" stroke-width="0.25">20000</text>
<path d="M140,858.2 H135 M140,891.91 H135 M140,925.62 H135 M140,959.34 H135 M140,993.05 H135 M140,1026.76 H135 M140,1060.48 H135 M140,1094.19 H135 M140,1127.9 H135 M140,875.06 H137.3 M140,908.77 H137.3 M140,942.48 H137.3 M140,976.19 H137.3 M140,1009.91 H137.3 M140,1043.62 H137.3 M140,1077.33 H137.3 M140,1111.04 H137.3" stroke="#111" stroke-width="1.6" fill="none"/>
<text x="67.2" y="987.8" font-size="28" text-anchor="middle" font-weight="normal" font-family="'Liberation Serif', 'Times New Roman', serif" fill="#111" transform="rotate(-90 67.2 987.8)">B</text>
</svg>
</body></html>
